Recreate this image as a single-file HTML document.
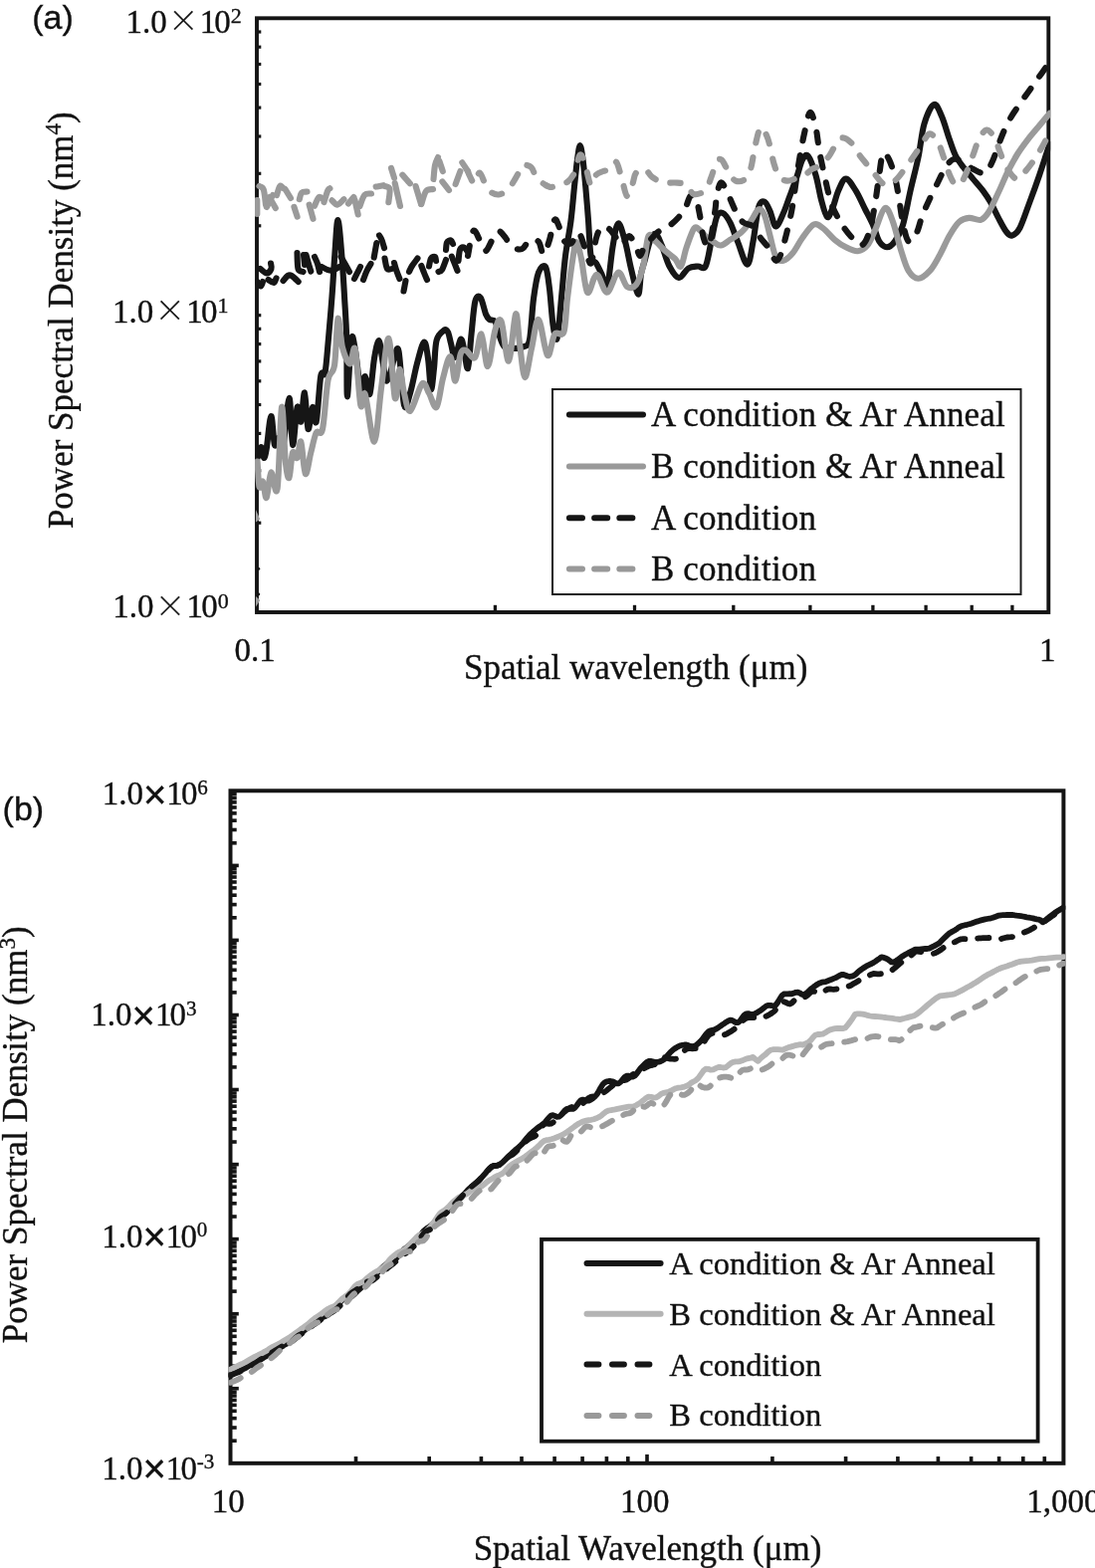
<!DOCTYPE html>
<html><head><meta charset="utf-8"><title>PSD</title>
<style>html,body{margin:0;padding:0;background:#fff;}svg{display:block;} text{stroke:#111;stroke-width:0.35px;}</style>
</head><body>
<svg width="1100" height="1575" viewBox="0 0 1100 1575">
<rect width="1100" height="1575" fill="#fff"/>
<text x="32.2" y="29.2" font-family="'Liberation Sans',Arial,sans-serif" font-size="34" text-anchor="start" fill="#111" class="t" >(a)</text>
<text x="2.6" y="823.8" font-family="'Liberation Sans',Arial,sans-serif" font-size="34" text-anchor="start" fill="#111" class="t" >(b)</text>
<text x="126.4" y="32.5" font-family="'Liberation Serif','Times New Roman',serif" font-size="33" fill="#111">1.0<tspan font-family="'Noto Serif CJK SC','Noto Serif CJK JP',serif" font-size="31" dx="1" dy="-0.3">×</tspan><tspan dx="1" dy="0.3">1</tspan><tspan dx="-1.8">0</tspan><tspan font-size="22" dx="0" dy="-9.8">2</tspan></text>
<text x="113.0" y="323.7" font-family="'Liberation Serif','Times New Roman',serif" font-size="33" fill="#111">1.0<tspan font-family="'Noto Serif CJK SC','Noto Serif CJK JP',serif" font-size="31" dx="1" dy="-0.3">×</tspan><tspan dx="1" dy="0.3">1</tspan><tspan dx="-1.8">0</tspan><tspan font-size="22" dx="0" dy="-9.8">1</tspan></text>
<text x="113.3" y="620.3" font-family="'Liberation Serif','Times New Roman',serif" font-size="33" fill="#111">1.0<tspan font-family="'Noto Serif CJK SC','Noto Serif CJK JP',serif" font-size="31" dx="1" dy="-0.3">×</tspan><tspan dx="1" dy="0.3">1</tspan><tspan dx="-1.8">0</tspan><tspan font-size="22" dx="0" dy="-9.8">0</tspan></text>
<text x="256" y="663.8" font-family="'Liberation Serif','Times New Roman',serif" font-size="33" text-anchor="middle" fill="#111" class="t" >0.1</text>
<text x="1052.3" y="664" font-family="'Liberation Serif','Times New Roman',serif" font-size="33" text-anchor="middle" fill="#111" class="t" >1</text>
<text x="638.7" y="681.6" font-family="'Liberation Serif','Times New Roman',serif" font-size="35" text-anchor="middle" fill="#111" class="t" >Spatial wavelength (μm)</text>
<text transform="translate(73,321.7) rotate(-90)" font-family="'Liberation Serif','Times New Roman',serif" font-size="35" text-anchor="middle" fill="#111">Power Spectral Density (nm<tspan font-size="23" dy="-12">4</tspan><tspan dy="12">)</tspan></text>
<text x="102.7" y="808" font-family="'Liberation Serif','Times New Roman',serif" font-size="33" fill="#111">1.0<tspan font-family="'Liberation Sans',Arial,sans-serif" font-size="40" dy="3.5">×</tspan><tspan dy="-3.5">1</tspan><tspan dx="-1.8">0</tspan><tspan font-size="21" dx="-0.2" dy="-10.3">6</tspan></text>
<text x="91.3" y="1030.2" font-family="'Liberation Serif','Times New Roman',serif" font-size="33" fill="#111">1.0<tspan font-family="'Liberation Sans',Arial,sans-serif" font-size="40" dy="3.5">×</tspan><tspan dy="-3.5">1</tspan><tspan dx="-1.8">0</tspan><tspan font-size="21" dx="-0.2" dy="-10.3">3</tspan></text>
<text x="102.2" y="1252.5" font-family="'Liberation Serif','Times New Roman',serif" font-size="33" fill="#111">1.0<tspan font-family="'Liberation Sans',Arial,sans-serif" font-size="40" dy="3.5">×</tspan><tspan dy="-3.5">1</tspan><tspan dx="-1.8">0</tspan><tspan font-size="21" dx="-0.2" dy="-10.3">0</tspan></text>
<text x="102.2" y="1485.7" font-family="'Liberation Serif','Times New Roman',serif" font-size="33" fill="#111">1.0<tspan font-family="'Liberation Sans',Arial,sans-serif" font-size="40" dy="3.5">×</tspan><tspan dy="-3.5">1</tspan><tspan dx="-1.8">0</tspan><tspan font-size="21" dx="-0.2" dy="-10.3">-3</tspan></text>
<text x="229.2" y="1519" font-family="'Liberation Serif','Times New Roman',serif" font-size="33" text-anchor="middle" fill="#111" class="t" >10</text>
<text x="647.8" y="1519" font-family="'Liberation Serif','Times New Roman',serif" font-size="33" text-anchor="middle" fill="#111" class="t" >100</text>
<text x="1068.4" y="1519" font-family="'Liberation Serif','Times New Roman',serif" font-size="33" text-anchor="middle" fill="#111" class="t" >1,000</text>
<text x="650.5" y="1567.3" font-family="'Liberation Serif','Times New Roman',serif" font-size="35" text-anchor="middle" fill="#111" class="t" >Spatial Wavelength (μm)</text>
<text transform="translate(26.5,1139.8) rotate(-90)" font-family="'Liberation Serif','Times New Roman',serif" font-size="35" text-anchor="middle" fill="#111">Power Spectral Density (nm<tspan font-size="23" dy="-12">3</tspan><tspan dy="12">)</tspan></text>
<line x1="258.0" y1="525.2" x2="262.3" y2="525.2" stroke="#141414" stroke-width="3.2"/>
<line x1="258.0" y1="472.7" x2="262.3" y2="472.7" stroke="#141414" stroke-width="3.2"/>
<line x1="258.0" y1="435.4" x2="262.3" y2="435.4" stroke="#141414" stroke-width="3.2"/>
<line x1="258.0" y1="406.5" x2="262.3" y2="406.5" stroke="#141414" stroke-width="3.2"/>
<line x1="258.0" y1="382.8" x2="262.3" y2="382.8" stroke="#141414" stroke-width="3.2"/>
<line x1="258.0" y1="362.9" x2="262.3" y2="362.9" stroke="#141414" stroke-width="3.2"/>
<line x1="258.0" y1="345.6" x2="262.3" y2="345.6" stroke="#141414" stroke-width="3.2"/>
<line x1="258.0" y1="330.3" x2="262.3" y2="330.3" stroke="#141414" stroke-width="3.2"/>
<line x1="258.0" y1="316.7" x2="262.3" y2="316.7" stroke="#141414" stroke-width="3.2"/>
<line x1="258.0" y1="226.8" x2="262.3" y2="226.8" stroke="#141414" stroke-width="3.2"/>
<line x1="258.0" y1="174.3" x2="262.3" y2="174.3" stroke="#141414" stroke-width="3.2"/>
<line x1="258.0" y1="137.0" x2="262.3" y2="137.0" stroke="#141414" stroke-width="3.2"/>
<line x1="258.0" y1="108.1" x2="262.3" y2="108.1" stroke="#141414" stroke-width="3.2"/>
<line x1="258.0" y1="84.5" x2="262.3" y2="84.5" stroke="#141414" stroke-width="3.2"/>
<line x1="258.0" y1="64.5" x2="262.3" y2="64.5" stroke="#141414" stroke-width="3.2"/>
<line x1="258.0" y1="47.2" x2="262.3" y2="47.2" stroke="#141414" stroke-width="3.2"/>
<line x1="258.0" y1="32.0" x2="262.3" y2="32.0" stroke="#141414" stroke-width="3.2"/>
<line x1="497.4" y1="615.0" x2="497.4" y2="607.8" stroke="#141414" stroke-width="3.3"/>
<line x1="637.5" y1="615.0" x2="637.5" y2="607.8" stroke="#141414" stroke-width="3.3"/>
<line x1="736.8" y1="615.0" x2="736.8" y2="607.8" stroke="#141414" stroke-width="3.3"/>
<line x1="813.9" y1="615.0" x2="813.9" y2="607.8" stroke="#141414" stroke-width="3.3"/>
<line x1="876.9" y1="615.0" x2="876.9" y2="607.8" stroke="#141414" stroke-width="3.3"/>
<line x1="930.1" y1="615.0" x2="930.1" y2="607.8" stroke="#141414" stroke-width="3.3"/>
<line x1="976.2" y1="615.0" x2="976.2" y2="607.8" stroke="#141414" stroke-width="3.3"/>
<line x1="1016.9" y1="615.0" x2="1016.9" y2="607.8" stroke="#141414" stroke-width="3.3"/>
<line x1="231.5" y1="1447.2" x2="237.7" y2="1447.2" stroke="#141414" stroke-width="3.6"/>
<line x1="231.5" y1="1434.0" x2="237.7" y2="1434.0" stroke="#141414" stroke-width="3.6"/>
<line x1="231.5" y1="1424.6" x2="237.7" y2="1424.6" stroke="#141414" stroke-width="3.6"/>
<line x1="231.5" y1="1417.3" x2="237.7" y2="1417.3" stroke="#141414" stroke-width="3.6"/>
<line x1="231.5" y1="1411.4" x2="237.7" y2="1411.4" stroke="#141414" stroke-width="3.6"/>
<line x1="231.5" y1="1406.4" x2="237.7" y2="1406.4" stroke="#141414" stroke-width="3.6"/>
<line x1="231.5" y1="1402.0" x2="237.7" y2="1402.0" stroke="#141414" stroke-width="3.6"/>
<line x1="231.5" y1="1398.2" x2="237.7" y2="1398.2" stroke="#141414" stroke-width="3.6"/>
<line x1="231.5" y1="1394.7" x2="239.8" y2="1394.7" stroke="#141414" stroke-width="3.6"/>
<line x1="231.5" y1="1372.2" x2="237.7" y2="1372.2" stroke="#141414" stroke-width="3.6"/>
<line x1="231.5" y1="1358.9" x2="237.7" y2="1358.9" stroke="#141414" stroke-width="3.6"/>
<line x1="231.5" y1="1349.6" x2="237.7" y2="1349.6" stroke="#141414" stroke-width="3.6"/>
<line x1="231.5" y1="1342.3" x2="237.7" y2="1342.3" stroke="#141414" stroke-width="3.6"/>
<line x1="231.5" y1="1336.3" x2="237.7" y2="1336.3" stroke="#141414" stroke-width="3.6"/>
<line x1="231.5" y1="1331.3" x2="237.7" y2="1331.3" stroke="#141414" stroke-width="3.6"/>
<line x1="231.5" y1="1327.0" x2="237.7" y2="1327.0" stroke="#141414" stroke-width="3.6"/>
<line x1="231.5" y1="1323.1" x2="237.7" y2="1323.1" stroke="#141414" stroke-width="3.6"/>
<line x1="231.5" y1="1319.7" x2="239.8" y2="1319.7" stroke="#141414" stroke-width="3.6"/>
<line x1="231.5" y1="1297.1" x2="237.7" y2="1297.1" stroke="#141414" stroke-width="3.6"/>
<line x1="231.5" y1="1283.9" x2="237.7" y2="1283.9" stroke="#141414" stroke-width="3.6"/>
<line x1="231.5" y1="1274.5" x2="237.7" y2="1274.5" stroke="#141414" stroke-width="3.6"/>
<line x1="231.5" y1="1267.2" x2="237.7" y2="1267.2" stroke="#141414" stroke-width="3.6"/>
<line x1="231.5" y1="1261.3" x2="237.7" y2="1261.3" stroke="#141414" stroke-width="3.6"/>
<line x1="231.5" y1="1256.3" x2="237.7" y2="1256.3" stroke="#141414" stroke-width="3.6"/>
<line x1="231.5" y1="1251.9" x2="237.7" y2="1251.9" stroke="#141414" stroke-width="3.6"/>
<line x1="231.5" y1="1248.1" x2="237.7" y2="1248.1" stroke="#141414" stroke-width="3.6"/>
<line x1="231.5" y1="1244.6" x2="239.8" y2="1244.6" stroke="#141414" stroke-width="3.6"/>
<line x1="231.5" y1="1222.0" x2="237.7" y2="1222.0" stroke="#141414" stroke-width="3.6"/>
<line x1="231.5" y1="1208.8" x2="237.7" y2="1208.8" stroke="#141414" stroke-width="3.6"/>
<line x1="231.5" y1="1199.4" x2="237.7" y2="1199.4" stroke="#141414" stroke-width="3.6"/>
<line x1="231.5" y1="1192.2" x2="237.7" y2="1192.2" stroke="#141414" stroke-width="3.6"/>
<line x1="231.5" y1="1186.2" x2="237.7" y2="1186.2" stroke="#141414" stroke-width="3.6"/>
<line x1="231.5" y1="1181.2" x2="237.7" y2="1181.2" stroke="#141414" stroke-width="3.6"/>
<line x1="231.5" y1="1176.9" x2="237.7" y2="1176.9" stroke="#141414" stroke-width="3.6"/>
<line x1="231.5" y1="1173.0" x2="237.7" y2="1173.0" stroke="#141414" stroke-width="3.6"/>
<line x1="231.5" y1="1169.6" x2="239.8" y2="1169.6" stroke="#141414" stroke-width="3.6"/>
<line x1="231.5" y1="1147.0" x2="237.7" y2="1147.0" stroke="#141414" stroke-width="3.6"/>
<line x1="231.5" y1="1133.8" x2="237.7" y2="1133.8" stroke="#141414" stroke-width="3.6"/>
<line x1="231.5" y1="1124.4" x2="237.7" y2="1124.4" stroke="#141414" stroke-width="3.6"/>
<line x1="231.5" y1="1117.1" x2="237.7" y2="1117.1" stroke="#141414" stroke-width="3.6"/>
<line x1="231.5" y1="1111.2" x2="237.7" y2="1111.2" stroke="#141414" stroke-width="3.6"/>
<line x1="231.5" y1="1106.1" x2="237.7" y2="1106.1" stroke="#141414" stroke-width="3.6"/>
<line x1="231.5" y1="1101.8" x2="237.7" y2="1101.8" stroke="#141414" stroke-width="3.6"/>
<line x1="231.5" y1="1098.0" x2="237.7" y2="1098.0" stroke="#141414" stroke-width="3.6"/>
<line x1="231.5" y1="1094.5" x2="239.8" y2="1094.5" stroke="#141414" stroke-width="3.6"/>
<line x1="231.5" y1="1071.9" x2="237.7" y2="1071.9" stroke="#141414" stroke-width="3.6"/>
<line x1="231.5" y1="1058.7" x2="237.7" y2="1058.7" stroke="#141414" stroke-width="3.6"/>
<line x1="231.5" y1="1049.3" x2="237.7" y2="1049.3" stroke="#141414" stroke-width="3.6"/>
<line x1="231.5" y1="1042.1" x2="237.7" y2="1042.1" stroke="#141414" stroke-width="3.6"/>
<line x1="231.5" y1="1036.1" x2="237.7" y2="1036.1" stroke="#141414" stroke-width="3.6"/>
<line x1="231.5" y1="1031.1" x2="237.7" y2="1031.1" stroke="#141414" stroke-width="3.6"/>
<line x1="231.5" y1="1026.7" x2="237.7" y2="1026.7" stroke="#141414" stroke-width="3.6"/>
<line x1="231.5" y1="1022.9" x2="237.7" y2="1022.9" stroke="#141414" stroke-width="3.6"/>
<line x1="231.5" y1="1019.5" x2="239.8" y2="1019.5" stroke="#141414" stroke-width="3.6"/>
<line x1="231.5" y1="996.9" x2="237.7" y2="996.9" stroke="#141414" stroke-width="3.6"/>
<line x1="231.5" y1="983.7" x2="237.7" y2="983.7" stroke="#141414" stroke-width="3.6"/>
<line x1="231.5" y1="974.3" x2="237.7" y2="974.3" stroke="#141414" stroke-width="3.6"/>
<line x1="231.5" y1="967.0" x2="237.7" y2="967.0" stroke="#141414" stroke-width="3.6"/>
<line x1="231.5" y1="961.1" x2="237.7" y2="961.1" stroke="#141414" stroke-width="3.6"/>
<line x1="231.5" y1="956.0" x2="237.7" y2="956.0" stroke="#141414" stroke-width="3.6"/>
<line x1="231.5" y1="951.7" x2="237.7" y2="951.7" stroke="#141414" stroke-width="3.6"/>
<line x1="231.5" y1="947.8" x2="237.7" y2="947.8" stroke="#141414" stroke-width="3.6"/>
<line x1="231.5" y1="944.4" x2="239.8" y2="944.4" stroke="#141414" stroke-width="3.6"/>
<line x1="231.5" y1="921.8" x2="237.7" y2="921.8" stroke="#141414" stroke-width="3.6"/>
<line x1="231.5" y1="908.6" x2="237.7" y2="908.6" stroke="#141414" stroke-width="3.6"/>
<line x1="231.5" y1="899.2" x2="237.7" y2="899.2" stroke="#141414" stroke-width="3.6"/>
<line x1="231.5" y1="891.9" x2="237.7" y2="891.9" stroke="#141414" stroke-width="3.6"/>
<line x1="231.5" y1="886.0" x2="237.7" y2="886.0" stroke="#141414" stroke-width="3.6"/>
<line x1="231.5" y1="881.0" x2="237.7" y2="881.0" stroke="#141414" stroke-width="3.6"/>
<line x1="231.5" y1="876.6" x2="237.7" y2="876.6" stroke="#141414" stroke-width="3.6"/>
<line x1="231.5" y1="872.8" x2="237.7" y2="872.8" stroke="#141414" stroke-width="3.6"/>
<line x1="231.5" y1="869.4" x2="239.8" y2="869.4" stroke="#141414" stroke-width="3.6"/>
<line x1="231.5" y1="846.8" x2="237.7" y2="846.8" stroke="#141414" stroke-width="3.6"/>
<line x1="231.5" y1="833.5" x2="237.7" y2="833.5" stroke="#141414" stroke-width="3.6"/>
<line x1="231.5" y1="824.2" x2="237.7" y2="824.2" stroke="#141414" stroke-width="3.6"/>
<line x1="231.5" y1="816.9" x2="237.7" y2="816.9" stroke="#141414" stroke-width="3.6"/>
<line x1="231.5" y1="811.0" x2="237.7" y2="811.0" stroke="#141414" stroke-width="3.6"/>
<line x1="231.5" y1="805.9" x2="237.7" y2="805.9" stroke="#141414" stroke-width="3.6"/>
<line x1="231.5" y1="801.6" x2="237.7" y2="801.6" stroke="#141414" stroke-width="3.6"/>
<line x1="231.5" y1="797.7" x2="237.7" y2="797.7" stroke="#141414" stroke-width="3.6"/>
<line x1="357.5" y1="1469.8" x2="357.5" y2="1463.0" stroke="#141414" stroke-width="3.6"/>
<line x1="431.2" y1="1469.8" x2="431.2" y2="1463.0" stroke="#141414" stroke-width="3.6"/>
<line x1="483.4" y1="1469.8" x2="483.4" y2="1463.0" stroke="#141414" stroke-width="3.6"/>
<line x1="524.0" y1="1469.8" x2="524.0" y2="1463.0" stroke="#141414" stroke-width="3.6"/>
<line x1="557.1" y1="1469.8" x2="557.1" y2="1463.0" stroke="#141414" stroke-width="3.6"/>
<line x1="585.1" y1="1469.8" x2="585.1" y2="1463.0" stroke="#141414" stroke-width="3.6"/>
<line x1="609.4" y1="1469.8" x2="609.4" y2="1463.0" stroke="#141414" stroke-width="3.6"/>
<line x1="630.8" y1="1469.8" x2="630.8" y2="1463.0" stroke="#141414" stroke-width="3.6"/>
<line x1="650.0" y1="1469.8" x2="650.0" y2="1460.9" stroke="#141414" stroke-width="3.6"/>
<line x1="775.9" y1="1469.8" x2="775.9" y2="1463.0" stroke="#141414" stroke-width="3.6"/>
<line x1="849.6" y1="1469.8" x2="849.6" y2="1463.0" stroke="#141414" stroke-width="3.6"/>
<line x1="901.9" y1="1469.8" x2="901.9" y2="1463.0" stroke="#141414" stroke-width="3.6"/>
<line x1="942.4" y1="1469.8" x2="942.4" y2="1463.0" stroke="#141414" stroke-width="3.6"/>
<line x1="975.6" y1="1469.8" x2="975.6" y2="1463.0" stroke="#141414" stroke-width="3.6"/>
<line x1="1003.6" y1="1469.8" x2="1003.6" y2="1463.0" stroke="#141414" stroke-width="3.6"/>
<line x1="1027.8" y1="1469.8" x2="1027.8" y2="1463.0" stroke="#141414" stroke-width="3.6"/>
<line x1="1049.3" y1="1469.8" x2="1049.3" y2="1463.0" stroke="#141414" stroke-width="3.6"/>
<rect x="258.0" y="18.3" width="795.3" height="596.7" fill="none" stroke="#141414" stroke-width="3.9"/>
<rect x="231.5" y="794.3" width="836.9" height="675.5" fill="none" stroke="#141414" stroke-width="4"/>
<defs><clipPath id="ca"><rect x="256" y="16.4" width="799.2" height="600.5"/></clipPath><clipPath id="cb"><rect x="229.5" y="792.3" width="840.9" height="679.5"/></clipPath></defs>
<g clip-path="url(#ca)" fill="none" stroke-linecap="round" stroke-linejoin="round">
<path d="M258.6,460.0 C259.2,458.2 261.2,449.0 262.3,449.0 C263.4,449.0 264.1,459.7 265.0,460.0 C265.9,460.3 266.5,458.0 267.7,451.0 C268.9,444.0 270.9,418.7 272.3,418.0 C273.7,417.3 274.6,443.3 275.9,447.0 C277.2,450.7 278.6,439.2 280.0,440.0 C281.4,440.8 282.2,458.7 284.0,452.0 C285.8,445.3 288.8,400.8 290.5,400.0 C292.2,399.2 292.6,445.5 294.0,447.0 C295.4,448.5 297.2,412.9 298.6,409.0 C300.0,405.1 301.1,426.0 302.3,423.6 C303.5,421.2 304.8,393.3 306.0,394.5 C307.2,395.7 308.2,428.6 309.5,431.0 C310.8,433.4 312.6,410.2 314.0,409.0 C315.4,407.8 316.3,428.9 317.7,423.6 C319.1,418.3 320.8,385.6 322.3,377.4 C323.8,369.2 325.2,380.9 326.5,374.6 C327.8,368.3 328.8,352.5 330.0,339.7 C331.2,326.9 332.4,311.8 333.5,297.8 C334.6,283.8 335.3,268.7 336.3,255.9 C337.3,243.1 338.2,221.0 339.4,221.0 C340.6,221.0 342.2,243.1 343.3,255.9 C344.4,268.7 345.2,283.8 346.0,297.8 C346.8,311.8 347.7,322.9 348.2,339.7 C348.7,356.4 348.1,398.1 348.9,398.3 C349.7,398.5 351.7,348.9 353.0,341.0 C354.3,333.1 355.2,342.7 356.8,351.0 C358.4,359.3 360.6,386.5 362.3,391.0 C364.0,395.5 365.3,377.2 366.8,378.0 C368.3,378.8 369.9,399.0 371.4,396.0 C372.9,393.0 374.5,369.0 376.0,360.0 C377.5,351.0 379.2,342.0 380.5,342.0 C381.8,342.0 382.8,353.3 384.0,360.0 C385.2,366.7 386.4,379.5 387.7,382.0 C389.0,384.5 390.6,378.7 392.0,375.0 C393.4,371.3 394.6,363.7 396.0,360.0 C397.4,356.3 398.8,344.9 400.5,352.7 C402.2,360.5 404.1,399.9 406.0,407.0 C407.9,414.1 409.8,402.0 412.0,395.0 C414.2,388.0 416.7,373.6 419.0,365.0 C421.3,356.4 424.2,344.4 426.0,343.6 C427.8,342.8 428.8,352.1 430.0,360.0 C431.2,367.9 432.0,389.3 433.0,391.0 C434.0,392.7 435.1,378.2 436.0,370.0 C436.9,361.8 436.9,348.2 438.6,341.8 C440.3,335.4 444.1,333.2 446.0,331.8 C447.9,330.4 448.8,331.4 450.0,333.6 C451.2,335.8 451.8,340.8 453.0,345.0 C454.2,349.2 455.4,359.7 457.0,359.0 C458.6,358.3 461.2,342.5 462.7,341.0 C464.2,339.5 464.8,345.2 466.0,350.0 C467.2,354.8 468.7,372.5 470.0,370.0 C471.3,367.5 472.4,346.2 473.6,335.0 C474.8,323.8 475.8,308.7 477.3,302.7 C478.8,296.7 480.9,296.9 482.7,299.0 C484.5,301.1 486.5,311.8 488.0,315.5 C489.5,319.2 490.2,319.8 491.8,321.0 C493.4,322.2 495.8,320.4 497.3,322.7 C498.8,325.0 499.5,330.8 501.0,335.0 C502.5,339.2 503.9,345.5 506.4,348.0 C508.9,350.5 512.7,350.0 516.0,350.0 C519.3,350.0 523.7,349.5 526.4,348.0 C529.1,346.5 530.4,349.0 532.0,341.0 C533.6,333.0 534.5,311.2 536.0,300.0 C537.5,288.8 539.0,278.9 541.0,273.6 C543.0,268.3 546.2,265.3 548.0,268.0 C549.8,270.7 550.8,280.3 552.0,290.0 C553.2,299.7 554.3,317.5 555.5,326.0 C556.7,334.5 558.0,341.0 559.0,341.0 C560.0,341.0 560.6,333.9 561.5,326.0 C562.4,318.1 563.4,305.1 564.5,293.6 C565.6,282.1 566.5,269.1 568.0,257.0 C569.5,244.9 572.1,233.1 573.6,221.0 C575.1,208.9 576.2,194.7 577.3,184.5 C578.4,174.3 579.1,166.4 580.0,160.0 C580.9,153.6 581.8,146.0 582.7,146.0 C583.6,146.0 584.6,153.6 585.5,160.0 C586.4,166.4 587.1,174.3 588.0,184.5 C588.9,194.7 590.1,208.9 591.0,221.0 C591.9,233.1 592.3,249.8 593.6,257.0 C594.9,264.2 597.2,261.4 599.0,264.5 C600.8,267.6 602.7,271.6 604.5,275.5 C606.3,279.4 608.2,292.6 610.0,288.0 C611.8,283.4 613.7,258.6 615.5,248.0 C617.3,237.4 618.9,225.4 621.0,224.5 C623.1,223.6 625.8,235.1 628.0,242.7 C630.2,250.3 631.8,261.2 634.0,270.0 C636.2,278.8 639.3,294.7 641.0,295.5 C642.7,296.3 642.9,280.6 644.0,275.0 C645.1,269.4 646.0,267.7 647.6,262.0 C649.2,256.3 651.5,245.3 653.4,240.8 C655.3,236.3 657.1,234.1 659.0,235.0 C660.9,235.9 662.5,241.1 664.8,246.5 C667.0,251.9 669.6,262.1 672.5,267.5 C675.4,272.9 678.8,278.7 682.0,279.0 C685.2,279.3 688.3,271.4 691.5,269.5 C694.7,267.6 698.1,267.8 701.0,267.5 C703.9,267.2 706.5,271.6 708.7,267.5 C711.0,263.4 712.6,250.9 714.5,242.7 C716.4,234.4 718.1,222.8 720.0,218.0 C721.9,213.2 723.8,213.1 726.0,214.0 C728.2,214.9 731.0,218.8 733.5,223.6 C736.0,228.4 738.1,235.7 741.0,242.7 C743.9,249.7 748.1,265.6 750.7,265.6 C753.3,265.6 754.6,252.2 756.5,242.7 C758.4,233.2 760.1,215.1 762.0,208.4 C763.9,201.7 766.1,202.0 768.0,202.6 C769.9,203.2 771.7,208.0 773.6,212.2 C775.5,216.3 777.2,227.2 779.4,227.5 C781.6,227.8 784.8,218.8 787.0,214.0 C789.2,209.2 790.5,204.8 792.7,198.8 C794.9,192.8 798.2,184.2 800.4,177.8 C802.6,171.4 804.1,164.1 806.0,160.6 C807.9,157.1 809.5,154.2 811.8,156.8 C814.0,159.4 817.3,168.7 819.5,176.0 C821.7,183.3 823.1,193.7 825.0,200.7 C826.9,207.7 829.1,216.7 831.0,218.0 C832.9,219.3 834.7,212.9 836.6,208.4 C838.5,203.9 840.2,195.8 842.4,191.0 C844.6,186.2 846.9,179.5 849.8,179.6 C852.7,179.7 856.3,186.2 859.6,191.4 C862.9,196.6 866.5,205.1 869.5,211.0 C872.5,216.9 875.0,221.5 877.3,226.7 C879.6,231.9 880.9,238.8 883.2,242.4 C885.5,246.0 888.4,248.3 891.0,248.3 C893.6,248.3 896.4,246.0 899.0,242.4 C901.6,238.8 904.2,235.2 906.8,226.7 C909.4,218.2 912.0,202.8 914.6,191.4 C917.2,180.0 920.2,169.1 922.5,158.0 C924.8,146.9 925.8,133.4 928.4,124.6 C931.0,115.8 935.3,106.3 938.2,105.0 C941.1,103.7 943.4,110.9 946.0,116.8 C948.6,122.7 951.6,133.8 953.9,140.3 C956.2,146.8 957.5,151.4 959.8,156.0 C962.1,160.6 964.7,163.9 967.6,167.8 C970.5,171.7 974.1,175.7 977.4,179.6 C980.7,183.5 984.4,187.5 987.3,191.4 C990.2,195.3 992.4,198.4 995.0,203.0 C997.6,207.6 1000.4,214.0 1003.0,218.9 C1005.6,223.8 1008.5,229.7 1010.8,232.6 C1013.1,235.5 1014.4,237.2 1016.7,236.5 C1019.0,235.8 1021.6,234.3 1024.6,228.7 C1027.5,223.1 1031.1,211.8 1034.4,203.0 C1037.7,194.2 1041.3,184.2 1044.2,175.7 C1047.1,167.2 1050.3,157.1 1052.0,152.0 C1053.7,146.9 1054.1,146.2 1054.5,145.0" stroke="#161616" stroke-width="6.1"/>
<path d="M258.6,463.6 C258.9,467.8 259.6,485.7 260.5,489.0 C261.4,492.3 262.8,481.8 264.0,483.6 C265.2,485.4 266.3,501.5 267.7,500.0 C269.1,498.5 270.5,476.0 272.3,474.5 C274.1,473.0 276.8,501.9 278.6,491.0 C280.4,480.1 281.6,413.6 283.0,409.0 C284.4,404.4 285.6,451.8 286.8,463.6 C288.1,475.4 289.3,481.5 290.5,480.0 C291.7,478.5 292.6,457.8 294.0,454.5 C295.4,451.2 297.2,461.8 298.6,460.0 C300.0,458.2 300.9,440.9 302.3,443.6 C303.7,446.3 305.1,474.2 306.8,476.0 C308.5,477.8 310.5,461.4 312.3,454.5 C314.1,447.6 315.8,438.4 317.7,434.5 C319.6,430.6 322.0,439.8 324.0,431.0 C326.0,422.2 327.5,392.7 329.5,382.0 C331.5,371.3 334.3,377.3 336.0,367.0 C337.7,356.7 338.2,323.0 339.5,320.0 C340.8,317.0 342.0,341.4 344.0,349.0 C346.0,356.6 349.3,365.2 351.4,365.5 C353.5,365.8 355.0,344.1 356.8,351.0 C358.6,357.9 360.6,399.5 362.3,407.0 C364.0,414.5 364.5,389.9 366.8,396.0 C369.1,402.1 373.3,444.6 376.0,443.6 C378.7,442.6 380.6,407.3 383.0,390.0 C385.4,372.7 388.2,338.3 390.5,340.0 C392.8,341.7 395.0,394.8 396.8,400.0 C398.6,405.2 399.9,371.8 401.4,371.0 C402.9,370.2 404.2,388.1 406.0,395.0 C407.8,401.9 409.3,414.3 412.3,412.7 C415.3,411.1 420.9,388.4 424.0,385.5 C427.1,382.6 428.6,391.1 431.0,395.0 C433.4,398.9 436.3,411.5 438.6,409.0 C440.9,406.5 442.7,388.5 445.0,380.0 C447.3,371.5 450.2,357.6 452.3,358.0 C454.4,358.4 455.6,383.1 457.3,382.7 C459.0,382.3 460.9,360.6 462.7,355.5 C464.5,350.4 465.6,351.4 468.0,352.0 C470.4,352.6 474.7,361.8 477.3,359.0 C479.9,356.2 481.5,334.0 483.6,335.5 C485.7,337.0 487.7,368.6 490.0,368.0 C492.3,367.4 495.0,339.6 497.3,332.0 C499.6,324.4 501.3,317.6 503.6,322.7 C505.9,327.8 508.6,363.9 511.0,362.7 C513.4,361.5 516.2,318.4 518.0,315.5 C519.8,312.6 520.5,334.4 522.0,345.0 C523.5,355.6 525.3,378.2 527.3,379.0 C529.3,379.8 531.7,359.7 534.0,350.0 C536.3,340.3 538.3,319.8 541.0,321.0 C543.7,322.2 547.3,354.6 550.0,357.0 C552.7,359.4 554.6,339.4 557.3,335.5 C560.0,331.6 564.3,339.5 566.4,333.6 C568.5,327.7 568.5,312.4 570.0,300.0 C571.5,287.6 574.0,268.5 575.5,259.0 C577.0,249.5 577.6,242.8 579.0,243.0 C580.4,243.2 582.2,251.6 584.0,260.0 C585.8,268.4 587.8,290.4 590.0,293.6 C592.2,296.8 595.2,281.8 597.0,279.0 C598.8,276.2 598.8,274.6 601.0,277.0 C603.2,279.4 606.7,294.2 610.0,293.6 C613.3,293.0 617.7,274.5 621.0,273.6 C624.3,272.7 627.0,285.9 630.0,288.0 C633.0,290.1 636.3,289.3 639.0,286.0 C641.7,282.7 643.9,276.2 646.0,268.0 C648.1,259.8 649.3,241.2 651.5,237.0 C653.7,232.8 656.1,240.1 659.0,242.7 C661.9,245.2 665.4,249.4 668.6,252.3 C671.8,255.2 675.6,257.5 678.2,260.0 C680.8,262.5 682.1,269.4 684.0,267.5 C685.9,265.6 687.4,254.8 689.6,248.5 C691.8,242.2 695.1,232.3 697.3,229.4 C699.5,226.5 701.1,230.0 703.0,231.3 C704.9,232.6 706.5,235.1 708.7,237.0 C710.9,238.9 713.9,241.1 716.4,242.7 C718.9,244.3 721.1,246.8 724.0,246.5 C726.9,246.2 730.0,243.1 733.5,240.8 C737.0,238.6 741.5,236.2 745.0,233.0 C748.5,229.8 751.7,225.5 754.5,221.7 C757.3,217.9 759.8,211.2 762.0,210.3 C764.2,209.4 766.1,211.6 768.0,216.0 C769.9,220.4 771.7,230.0 773.6,237.0 C775.5,244.0 777.2,253.9 779.4,258.0 C781.6,262.1 784.1,262.5 787.0,261.8 C789.9,261.1 793.3,257.8 796.5,254.0 C799.7,250.2 802.5,243.8 806.0,239.0 C809.5,234.2 814.0,227.1 817.5,225.5 C821.0,223.9 823.5,226.8 827.0,229.4 C830.5,232.0 834.7,237.7 838.5,240.8 C842.3,244.0 845.9,246.4 849.8,248.3 C853.6,250.2 858.0,252.5 861.6,252.2 C865.2,251.9 868.5,250.0 871.4,246.4 C874.3,242.8 876.4,236.8 879.3,230.6 C882.2,224.4 886.0,210.3 889.0,209.0 C892.0,207.7 894.4,215.9 897.0,222.8 C899.6,229.7 902.2,242.1 904.8,250.3 C907.4,258.5 909.6,267.0 912.6,271.9 C915.6,276.8 918.9,279.7 922.5,279.7 C926.1,279.7 930.6,275.8 934.2,271.9 C937.8,268.0 940.7,262.1 944.0,256.2 C947.3,250.3 950.6,242.1 953.9,236.5 C957.2,230.9 960.4,225.7 963.7,222.8 C967.0,219.9 969.9,219.2 973.5,218.9 C977.1,218.6 982.0,221.8 985.3,220.8 C988.6,219.8 990.2,217.6 993.2,213.0 C996.2,208.4 999.7,200.2 1003.0,193.3 C1006.3,186.4 1009.5,178.2 1012.8,171.7 C1016.1,165.1 1019.3,159.2 1022.6,154.0 C1025.9,148.8 1029.1,144.6 1032.4,140.3 C1035.7,136.1 1038.9,132.4 1042.2,128.5 C1045.5,124.6 1050.0,119.2 1052.0,116.8 C1054.0,114.3 1054.1,114.3 1054.5,113.8" stroke="#9a9a9a" stroke-width="6.1"/>
<path d="M470.0,257.0 C470.9,252.8 473.4,234.4 475.5,232.0 C477.6,229.6 480.6,239.4 482.7,242.7 C484.8,246.0 485.9,252.6 488.0,252.0 C490.1,251.4 493.3,242.3 495.5,239.0 C497.7,235.7 498.9,232.0 501.0,232.0 C503.1,232.0 505.9,236.3 508.0,239.0 C510.1,241.7 510.9,246.2 513.6,248.0 C516.4,249.8 521.4,251.2 524.5,250.0 C527.6,248.8 529.2,242.2 532.0,241.0 C534.8,239.8 538.7,240.3 541.0,242.7 C543.3,245.1 544.2,255.8 546.0,255.5 C547.8,255.2 550.2,246.8 552.0,241.0 C553.8,235.2 555.5,223.5 557.0,221.0 C558.5,218.5 559.5,222.7 561.0,226.0 C562.5,229.3 563.9,237.9 566.0,241.0 C568.1,244.1 571.1,245.7 573.6,244.5 C576.1,243.3 578.6,232.7 581.0,233.6 C583.4,234.5 585.9,244.8 588.0,250.0 C590.1,255.2 591.8,266.3 593.6,264.5 C595.4,262.7 597.2,245.1 599.0,239.0 C600.8,232.9 602.3,229.5 604.5,228.0 C606.7,226.5 609.6,228.2 612.0,230.0 C614.4,231.8 616.9,236.3 619.0,239.0 C621.1,241.7 622.3,246.3 624.5,246.0 C626.7,245.7 629.6,236.7 632.0,237.0 C634.4,237.3 637.2,244.7 639.0,248.0 C640.8,251.3 641.6,257.2 643.0,257.0 C644.4,256.8 645.9,249.2 647.6,246.5 C649.3,243.8 651.2,243.1 653.4,240.8 C655.6,238.6 658.0,235.2 661.0,233.0 C664.0,230.8 668.0,230.0 671.5,227.5 C675.0,225.0 679.1,221.2 682.0,218.0 C684.9,214.8 686.8,211.9 688.7,208.4 C690.6,204.9 691.8,198.6 693.5,197.0 C695.2,195.4 697.4,195.6 699.0,198.8 C700.6,202.0 701.7,209.3 703.0,216.0 C704.3,222.7 705.2,233.9 706.8,239.0 C708.4,244.1 710.6,251.0 712.5,246.5 C714.4,242.0 717.0,220.4 718.3,212.2 C719.5,203.9 719.0,201.8 720.0,197.0 C721.0,192.2 722.4,184.5 724.0,183.5 C725.6,182.5 727.8,187.5 729.7,191.0 C731.6,194.5 733.6,200.3 735.5,204.5 C737.4,208.7 739.1,212.8 741.0,216.0 C742.9,219.2 744.4,221.7 747.0,223.6 C749.6,225.5 753.7,224.9 756.5,227.5 C759.3,230.1 761.5,235.5 764.0,239.0 C766.5,242.5 769.1,244.7 771.7,248.5 C774.3,252.3 777.2,260.9 779.4,261.8 C781.6,262.7 783.4,257.8 785.0,254.0 C786.6,250.2 787.7,244.1 789.0,239.0 C790.3,233.9 791.5,229.3 792.7,223.6 C794.0,217.8 795.0,214.0 796.5,204.5 C798.0,195.0 800.1,178.2 802.0,166.4 C803.9,154.7 806.0,142.9 808.0,134.0 C810.0,125.1 811.8,114.0 813.7,113.0 C815.6,112.0 817.9,121.3 819.5,128.0 C821.1,134.7 821.7,144.4 823.3,153.0 C824.9,161.6 827.4,172.4 829.0,179.7 C830.6,187.0 831.7,192.2 833.0,197.0 C834.3,201.8 835.0,204.6 836.6,208.4 C838.2,212.2 840.5,216.4 842.4,219.8 C844.3,223.2 845.6,225.6 847.8,228.7 C850.0,231.8 852.8,235.6 855.7,238.5 C858.7,241.4 862.5,247.4 865.5,246.4 C868.5,245.4 871.1,239.8 873.4,232.6 C875.7,225.4 877.7,212.5 879.3,203.0 C880.9,193.5 881.9,183.9 883.2,175.7 C884.5,167.5 885.4,156.6 887.0,154.0 C888.6,151.4 891.0,156.1 893.0,160.0 C895.0,163.9 897.4,171.4 899.0,177.6 C900.6,183.8 901.5,189.8 902.8,197.3 C904.1,204.8 905.2,215.3 906.8,222.8 C908.4,230.3 910.3,240.4 912.6,242.4 C914.9,244.4 918.2,238.8 920.5,234.6 C922.8,230.4 924.1,222.9 926.4,217.0 C928.7,211.1 931.6,204.8 934.2,199.2 C936.8,193.6 939.4,188.7 942.0,183.5 C944.6,178.3 947.4,171.7 950.0,167.8 C952.6,163.9 955.2,161.0 957.8,160.0 C960.4,159.0 962.4,160.4 965.7,162.0 C969.0,163.6 973.5,167.9 977.4,169.8 C981.3,171.8 985.9,175.0 989.2,173.7 C992.5,172.4 994.4,167.6 997.0,162.0 C999.6,156.4 1002.4,146.9 1005.0,140.3 C1007.6,133.7 1009.9,128.2 1012.8,122.6 C1015.7,117.0 1019.3,111.9 1022.6,107.0 C1025.9,102.1 1029.1,97.8 1032.4,93.2 C1035.7,88.6 1038.9,84.1 1042.2,79.5 C1045.5,74.9 1050.4,68.0 1052.0,65.7" stroke="#161616" stroke-width="6.1" stroke-dasharray="10.4 15.1"/>
<path d="M258.5,283.0 C259.1,283.8 261.1,287.5 262.0,287.5 C262.9,287.5 263.7,283.8 264.0,283.0" stroke="#161616" stroke-width="6.1"/>
<path d="M261.5,270.0 C262.6,270.8 266.2,274.5 268.0,274.5 C269.8,274.5 271.8,271.7 272.5,270.0 C273.2,268.3 272.1,265.4 272.0,264.5" stroke="#161616" stroke-width="6.1"/>
<path d="M269.5,281.0 C270.4,281.5 273.7,284.2 275.0,284.0 C276.3,283.8 277.1,280.2 277.5,279.5" stroke="#161616" stroke-width="6.1"/>
<path d="M284.5,282.0 C285.2,281.2 287.6,277.8 289.0,277.0 C290.4,276.2 291.2,276.0 293.0,277.0 C294.8,278.0 298.6,282.0 299.7,283.0" stroke="#161616" stroke-width="6.1"/>
<path d="M298.5,254.0 C298.7,256.7 298.5,266.8 299.5,270.0 C300.5,273.2 303.7,272.5 304.5,273.0" stroke="#161616" stroke-width="6.1"/>
<path d="M305.0,256.0 C305.2,257.7 305.8,264.3 306.0,266.0" stroke="#161616" stroke-width="6.1"/>
<path d="M307.5,256.0 C307.9,257.5 309.2,262.2 310.0,265.0 C310.8,267.8 311.9,271.2 312.3,272.5" stroke="#161616" stroke-width="6.1"/>
<path d="M316.0,258.0 C316.5,259.2 318.2,262.5 319.0,265.0 C319.8,267.5 320.7,271.7 321.0,273.0" stroke="#161616" stroke-width="6.1"/>
<path d="M323.0,268.0 C324.0,268.5 327.2,270.3 329.0,271.0 C330.8,271.7 332.8,271.8 333.5,272.0" stroke="#161616" stroke-width="6.1"/>
<path d="M335.5,271.0 C336.4,270.5 340.1,268.5 341.0,268.0" stroke="#161616" stroke-width="6.1"/>
<path d="M342.5,258.0 C343.1,259.0 344.6,261.5 346.0,264.0 C347.4,266.5 350.2,271.5 351.0,273.0" stroke="#161616" stroke-width="6.1"/>
<path d="M356.0,280.0 C356.5,279.0 358.0,276.0 359.0,274.0 C360.0,272.0 361.5,269.0 362.0,268.0" stroke="#161616" stroke-width="6.1"/>
<path d="M365.0,281.0 C365.6,279.5 367.2,274.7 368.5,272.0 C369.8,269.3 371.8,266.2 372.5,265.0" stroke="#161616" stroke-width="6.1"/>
<path d="M375.7,258.6 C376.1,256.2 377.9,246.4 378.3,244.0" stroke="#161616" stroke-width="6.1"/>
<path d="M381.0,236.5 C381.4,237.2 382.7,238.9 383.5,241.0 C384.3,243.1 385.6,247.7 386.0,249.0" stroke="#161616" stroke-width="6.1"/>
<path d="M386.5,259.5 C386.9,261.2 387.8,268.2 389.0,270.0 C390.2,271.8 392.8,270.0 393.5,270.0" stroke="#161616" stroke-width="6.1"/>
<path d="M396.0,264.0 C396.3,265.2 397.1,268.3 398.0,271.0 C398.9,273.7 400.8,278.5 401.4,280.0" stroke="#161616" stroke-width="6.1"/>
<path d="M407.5,282.0 C407.2,283.8 405.8,290.8 405.5,292.5" stroke="#161616" stroke-width="6.1"/>
<path d="M411.0,272.9 C411.5,271.9 412.6,269.2 414.0,267.0 C415.4,264.8 418.6,260.8 419.5,259.5" stroke="#161616" stroke-width="6.1"/>
<path d="M423.3,267.0 C423.8,268.2 425.1,271.7 426.0,274.0 C426.9,276.3 428.5,279.8 429.0,281.0" stroke="#161616" stroke-width="6.1"/>
<path d="M431.0,267.5 C431.3,266.2 432.0,261.1 433.0,259.5 C434.0,257.9 436.2,257.6 437.0,258.0 C437.8,258.4 437.8,261.3 438.0,262.0" stroke="#161616" stroke-width="6.1"/>
<path d="M440.5,273.0 C441.1,272.7 442.8,273.0 444.0,271.0 C445.2,269.0 447.3,262.7 448.0,261.0" stroke="#161616" stroke-width="6.1"/>
<path d="M448.0,251.0 C448.2,249.8 448.2,245.1 449.0,243.5 C449.8,241.9 452.0,241.2 453.0,241.5 C454.0,241.8 454.7,244.4 455.0,245.0" stroke="#161616" stroke-width="6.1"/>
<path d="M453.8,257.6 C454.8,260.0 458.6,269.5 459.5,271.9" stroke="#161616" stroke-width="6.1"/>
<path d="M460.5,262.0 C460.8,260.2 461.1,253.2 462.0,251.0 C462.9,248.8 464.7,248.2 466.0,248.5 C467.3,248.8 469.3,252.2 470.0,253.0" stroke="#161616" stroke-width="6.1"/>
<path d="M470.0,172.0 C470.3,172.8 470.8,174.9 472.0,177.0 C473.2,179.1 475.3,185.1 477.0,184.5 C478.7,183.9 479.8,172.7 482.0,173.6 C484.2,174.5 486.8,186.3 490.0,190.0 C493.2,193.7 497.3,195.8 501.0,195.5 C504.7,195.2 508.7,191.7 512.0,188.0 C515.3,184.3 518.9,177.3 521.0,173.6 C523.1,169.9 522.4,166.9 524.5,166.0 C526.6,165.1 531.2,165.8 533.6,168.0 C536.0,170.2 536.9,176.2 539.0,179.0 C541.1,181.8 543.6,183.0 546.0,184.5 C548.4,186.0 550.8,188.0 553.6,188.0 C556.4,188.0 560.0,185.4 562.7,184.5 C565.4,183.6 567.6,184.5 570.0,182.7 C572.4,180.9 574.9,178.1 577.0,173.6 C579.1,169.1 580.9,156.8 582.7,155.5 C584.5,154.2 586.2,160.9 588.0,166.0 C589.8,171.1 591.8,184.4 593.6,186.0 C595.4,187.6 596.9,177.8 599.0,175.5 C601.1,173.2 603.6,172.9 606.0,172.0 C608.4,171.1 611.4,171.6 613.6,170.0 C615.8,168.4 617.2,161.2 619.0,162.7 C620.8,164.2 622.7,173.3 624.5,179.0 C626.3,184.7 628.2,196.1 630.0,197.0 C631.8,197.9 634.0,188.4 635.5,184.5 C637.0,180.6 636.9,176.0 639.0,173.6 C641.1,171.2 645.3,169.3 648.0,170.0 C650.7,170.7 651.9,175.6 655.0,177.8 C658.1,180.1 662.9,182.6 666.7,183.5 C670.5,184.4 674.2,183.2 678.0,183.5 C681.8,183.8 686.4,183.6 689.6,185.5 C692.8,187.4 693.8,194.1 697.0,195.0 C700.2,195.9 705.8,193.9 708.7,191.0 C711.6,188.1 712.6,182.6 714.5,177.8 C716.4,173.1 718.2,165.4 720.0,162.5 C721.8,159.6 723.1,159.0 725.0,160.6 C726.9,162.2 729.3,168.5 731.6,172.0 C733.9,175.5 736.1,180.3 739.0,181.6 C741.9,182.9 746.4,182.0 749.0,179.7 C751.6,177.4 752.9,173.4 754.5,168.0 C756.1,162.6 756.8,154.0 758.4,147.3 C760.0,140.6 762.1,129.9 764.0,128.0 C765.9,126.1 768.4,132.6 770.0,135.8 C771.6,139.0 772.4,142.5 773.6,147.3 C774.9,152.1 775.9,159.4 777.5,164.5 C779.1,169.6 780.8,175.0 783.0,177.8 C785.2,180.7 788.2,181.3 790.8,181.6 C793.4,181.9 795.6,180.6 798.5,179.7 C801.4,178.8 805.1,177.6 808.0,176.0 C810.9,174.4 813.1,171.6 815.6,170.0 C818.1,168.4 820.1,168.6 823.0,166.4 C825.9,164.2 830.2,160.0 832.8,156.8 C835.4,153.6 836.3,150.4 838.5,147.3 C840.7,144.2 843.1,139.0 846.0,138.4 C848.9,137.8 852.8,141.1 855.7,144.0 C858.6,146.9 861.0,152.4 863.6,156.0 C866.2,159.6 868.8,162.5 871.4,165.8 C874.0,169.1 876.4,172.4 879.3,175.7 C882.2,179.0 885.7,184.5 889.0,185.5 C892.3,186.5 895.7,184.1 899.0,181.5 C902.3,178.9 905.5,174.1 908.7,169.8 C912.0,165.6 915.5,160.3 918.5,156.0 C921.5,151.7 923.8,147.6 926.4,144.0 C929.0,140.4 931.4,134.7 934.0,134.4 C936.6,134.1 939.7,138.4 942.0,142.3 C944.3,146.2 946.0,152.4 948.0,158.0 C950.0,163.6 952.0,171.1 954.0,175.7 C956.0,180.3 957.8,184.2 959.8,185.5 C961.8,186.8 963.8,185.8 965.7,183.5 C967.7,181.2 969.5,176.3 971.5,171.7 C973.5,167.1 975.4,161.2 977.4,156.0 C979.4,150.8 981.0,144.6 983.3,140.3 C985.6,136.1 988.4,130.8 991.0,130.5 C993.6,130.2 996.7,134.5 999.0,138.4 C1001.3,142.3 1003.0,149.1 1005.0,154.0 C1007.0,158.9 1008.2,163.5 1010.8,167.8 C1013.4,172.1 1017.6,178.6 1020.6,179.6 C1023.6,180.6 1025.9,176.3 1028.5,173.7 C1031.1,171.1 1033.8,167.6 1036.4,164.0 C1039.0,160.4 1041.6,156.3 1044.2,152.0 C1046.8,147.7 1050.3,141.3 1052.0,138.4 C1053.7,135.5 1054.1,135.2 1054.5,134.5" stroke="#9a9a9a" stroke-width="6.1" stroke-dasharray="10.4 15.1"/>
<path d="M258.3,215.0 C258.3,212.7 258.3,203.3 258.3,201.0" stroke="#9a9a9a" stroke-width="6.1"/>
<path d="M260.5,187.0 C261.2,187.6 263.7,187.2 264.8,190.4 C265.9,193.6 266.6,203.4 267.0,206.0" stroke="#9a9a9a" stroke-width="6.1"/>
<path d="M268.0,208.0 C269.0,206.0 273.0,198.0 274.0,196.0" stroke="#9a9a9a" stroke-width="6.1"/>
<path d="M270.5,198.0 C271.6,199.8 275.8,207.2 276.8,209.0" stroke="#9a9a9a" stroke-width="6.1"/>
<path d="M278.0,196.0 C278.5,194.5 280.1,188.2 281.2,187.0 C282.3,185.8 283.9,188.7 284.5,189.0" stroke="#9a9a9a" stroke-width="6.1"/>
<path d="M286.5,190.0 C287.4,191.5 291.1,197.5 292.0,199.0" stroke="#9a9a9a" stroke-width="6.1"/>
<path d="M295.4,207.8 C295.9,209.4 298.1,216.0 298.6,217.6" stroke="#9a9a9a" stroke-width="6.1"/>
<path d="M300.8,200.2 C301.2,199.1 301.7,194.9 303.0,193.6 C304.3,192.3 307.6,192.7 308.5,192.5" stroke="#9a9a9a" stroke-width="6.1"/>
<path d="M310.6,205.6 C311.2,208.0 313.9,217.4 314.5,219.8" stroke="#9a9a9a" stroke-width="6.1"/>
<path d="M316.0,206.7 C316.8,205.2 319.0,199.1 320.5,198.0 C322.0,196.9 324.1,199.8 324.8,200.2" stroke="#9a9a9a" stroke-width="6.1"/>
<path d="M325.5,203.0 C326.1,201.1 328.2,193.8 329.2,191.5 C330.2,189.2 331.0,189.7 331.4,189.3" stroke="#9a9a9a" stroke-width="6.1"/>
<path d="M333.5,201.3 C334.4,202.0 337.0,205.8 339.0,205.6 C341.0,205.4 344.4,201.1 345.5,200.2" stroke="#9a9a9a" stroke-width="6.1"/>
<path d="M349.9,204.5 C350.8,203.4 354.5,199.1 355.4,198.0" stroke="#9a9a9a" stroke-width="6.1"/>
<path d="M356.5,201.0 C357.0,203.4 359.2,213.1 359.7,215.5" stroke="#9a9a9a" stroke-width="6.1"/>
<path d="M361.5,207.0 C362.3,205.1 364.4,197.9 366.3,195.8 C368.2,193.7 371.9,194.7 373.0,194.5" stroke="#9a9a9a" stroke-width="6.1"/>
<path d="M377.6,187.6 C378.8,187.4 383.8,186.4 385.0,186.2" stroke="#9a9a9a" stroke-width="6.1"/>
<path d="M386.5,187.0 C387.3,187.5 390.9,187.3 391.5,190.0 C392.1,192.7 390.5,201.1 390.3,203.3" stroke="#9a9a9a" stroke-width="6.1"/>
<path d="M393.0,169.0 C393.5,170.6 395.5,177.0 396.0,178.6" stroke="#9a9a9a" stroke-width="6.1"/>
<path d="M396.7,184.0 C397.6,187.8 401.1,203.2 402.0,207.0" stroke="#9a9a9a" stroke-width="6.1"/>
<path d="M404.3,175.7 C405.6,177.1 410.6,182.9 411.9,184.3" stroke="#9a9a9a" stroke-width="6.1"/>
<path d="M417.6,187.0 C418.5,190.0 422.1,202.0 423.0,205.0" stroke="#9a9a9a" stroke-width="6.1"/>
<path d="M423.3,205.0 C424.1,202.8 426.1,194.5 428.0,192.0 C429.9,189.5 433.8,190.3 435.0,190.0" stroke="#9a9a9a" stroke-width="6.1"/>
<path d="M435.5,180.0 C435.8,177.7 436.2,169.7 437.0,166.0 C437.8,162.3 439.5,159.3 440.0,158.0" stroke="#9a9a9a" stroke-width="6.1"/>
<path d="M441.5,162.0 C442.1,163.7 444.2,170.3 444.8,172.0" stroke="#9a9a9a" stroke-width="6.1"/>
<path d="M444.3,182.4 C445.4,183.8 449.9,189.6 451.0,191.0" stroke="#9a9a9a" stroke-width="6.1"/>
<path d="M457.6,185.0 C458.4,182.8 461.6,174.2 462.4,172.0" stroke="#9a9a9a" stroke-width="6.1"/>
<path d="M464.3,163.3 C465.2,164.8 469.1,170.6 470.0,172.0" stroke="#9a9a9a" stroke-width="6.1"/>
</g>
<polygon points="257,512 261.2,521.5 257,524.5" fill="#9a9a9a"/><polygon points="257,599 261.2,603 257,609.5" fill="#9a9a9a"/>
<circle cx="259.6" cy="571.3" r="1.6" fill="#161616"/><circle cx="259.6" cy="596.8" r="1.6" fill="#161616"/>
<g clip-path="url(#cb)" fill="none" stroke-linecap="round" stroke-linejoin="round">
<path d="M231.5,1380.9 L233.5,1379.9 L235.5,1378.9 L237.5,1378.0 L239.5,1377.0 L241.5,1376.2 L243.5,1375.5 L245.5,1374.6 L247.5,1373.6 L249.5,1372.3 L251.5,1370.9 L253.5,1369.7 L255.5,1368.6 L257.5,1367.5 L259.5,1366.6 L261.5,1365.5 L263.5,1364.4 L265.5,1363.2 L267.5,1362.1 L269.5,1360.8 L271.5,1359.3 L273.5,1357.8 L275.5,1356.3 L277.5,1355.0 L279.5,1354.0 L281.5,1353.1 L283.5,1352.1 L285.5,1351.0 L287.5,1349.9 L289.5,1348.7 L291.5,1347.5 L293.5,1346.5 L295.5,1345.3 L297.5,1343.9 L299.5,1342.4 L301.5,1340.5 L303.5,1338.4 L305.5,1336.4 L307.5,1334.8 L309.5,1333.5 L311.5,1332.3 L313.5,1331.0 L315.5,1329.5 L317.5,1327.8 L319.5,1326.0 L321.5,1324.4 L323.5,1323.3 L325.5,1322.5 L327.5,1321.7 L329.5,1320.6 L331.5,1319.1 L333.5,1317.4 L335.5,1315.5 L337.5,1313.5 L339.5,1311.0 L341.5,1308.4 L343.5,1306.1 L345.5,1304.8 L347.5,1304.3 L349.5,1304.0 L351.5,1303.3 L353.5,1302.0 L355.5,1300.3 L357.5,1298.4 L359.5,1296.5 L361.5,1294.6 L363.5,1292.6 L365.5,1290.7 L367.5,1288.9 L369.5,1287.4 L371.5,1286.0 L373.5,1284.3 L375.5,1282.4 L377.5,1280.2 L379.5,1278.0 L381.5,1275.9 L383.5,1273.8 L385.5,1271.9 L387.5,1270.1 L389.5,1268.6 L391.5,1267.7 L393.5,1267.1 L395.5,1266.2 L397.5,1264.6 L399.5,1262.2 L401.5,1259.7 L403.5,1257.3 L405.5,1255.3 L407.5,1253.7 L409.5,1252.2 L411.5,1250.6 L413.5,1248.9 L415.5,1247.2 L417.5,1245.5 L419.5,1243.6 L421.5,1241.4 L423.5,1239.1 L425.5,1236.7 L427.5,1234.8 L429.5,1233.4 L431.5,1232.1 L433.5,1230.7 L435.5,1228.8 L437.5,1226.5 L439.5,1224.3 L441.5,1222.2 L443.5,1220.7 L445.5,1219.7 L447.5,1218.6 L449.5,1216.9 L451.5,1214.6 L453.5,1212.0 L455.5,1209.5 L457.5,1207.4 L459.5,1205.7 L461.5,1204.2 L463.5,1202.5 L465.5,1200.4 L467.5,1198.2 L469.5,1195.9 L471.5,1193.9 L473.5,1192.1 L475.5,1190.6 L477.5,1189.2 L479.5,1187.4 L481.5,1185.4 L483.5,1183.1 L485.5,1180.8 L487.5,1178.6 L489.5,1176.2 L491.5,1173.9 L493.5,1172.1 L495.5,1171.0 L497.5,1170.8 L499.5,1170.6 L501.5,1170.0 L503.5,1168.6 L505.5,1166.8 L507.5,1164.9 L509.5,1162.9 L511.5,1160.9 L513.5,1159.0 L515.5,1157.1 L517.5,1155.3 L519.5,1153.6 L521.5,1151.9 L523.5,1150.0 L525.5,1147.9 L527.5,1145.4 L529.5,1142.9 L531.5,1140.6 L533.5,1138.6 L535.5,1136.8 L537.5,1135.1 L539.5,1133.4 L541.5,1132.0 L543.5,1130.6 L545.5,1129.1 L547.5,1127.3 L549.5,1124.9 L551.5,1122.5 L553.5,1120.6 L555.5,1120.2 L557.5,1120.9 L559.5,1121.8 L561.5,1121.7 L563.5,1120.2 L565.5,1117.7 L567.5,1115.3 L569.5,1113.8 L571.5,1113.6 L573.5,1113.9 L575.5,1113.9 L577.5,1112.7 L579.5,1110.2 L581.5,1107.5 L583.5,1105.3 L585.5,1104.6 L587.5,1105.0 L589.5,1105.5 L591.5,1105.5 L593.5,1104.6 L595.5,1103.3 L597.5,1101.6 L599.5,1099.4 L601.5,1096.2 L603.5,1092.5 L605.5,1089.3 L607.5,1087.3 L609.5,1086.3 L611.5,1086.0 L613.5,1086.0 L615.5,1086.3 L617.5,1087.4 L619.5,1088.3 L621.5,1088.3 L623.5,1086.8 L625.5,1084.3 L627.5,1081.9 L629.5,1080.6 L631.5,1080.7 L633.5,1081.4 L635.5,1081.7 L637.5,1080.7 L639.5,1078.5 L641.5,1075.7 L643.5,1073.1 L645.5,1071.0 L647.5,1068.9 L649.5,1067.1 L651.5,1066.0 L653.5,1065.8 L655.5,1066.3 L657.5,1066.9 L659.5,1067.0 L661.5,1066.7 L663.5,1066.1 L665.5,1065.2 L667.5,1063.8 L669.5,1061.6 L671.5,1059.1 L673.5,1056.9 L675.5,1055.1 L677.5,1053.5 L679.5,1052.2 L681.5,1051.1 L683.5,1050.3 L685.5,1049.8 L687.5,1049.5 L689.5,1049.5 L691.5,1050.1 L693.5,1050.9 L695.5,1051.4 L697.5,1050.9 L699.5,1049.7 L701.5,1048.1 L703.5,1046.2 L705.5,1044.0 L707.5,1041.2 L709.5,1038.5 L711.5,1036.4 L713.5,1035.3 L715.5,1034.8 L717.5,1034.4 L719.5,1033.5 L721.5,1032.3 L723.5,1030.8 L725.5,1029.4 L727.5,1028.1 L729.5,1026.7 L731.5,1025.5 L733.5,1024.7 L735.5,1024.9 L737.5,1026.1 L739.5,1027.2 L741.5,1027.2 L743.5,1025.4 L745.5,1022.5 L747.5,1019.8 L749.5,1018.3 L751.5,1018.1 L753.5,1018.6 L755.5,1019.0 L757.5,1018.6 L759.5,1017.7 L761.5,1016.5 L763.5,1015.3 L765.5,1013.9 L767.5,1012.2 L769.5,1010.7 L771.5,1009.8 L773.5,1009.8 L775.5,1010.2 L777.5,1010.3 L779.5,1009.3 L781.5,1006.5 L783.5,1003.1 L785.5,1000.1 L787.5,998.5 L789.5,998.3 L791.5,998.4 L793.5,998.1 L795.5,998.3 L797.5,997.6 L799.5,996.8 L801.5,996.7 L803.5,997.5 L805.5,998.9 L807.5,999.1 L809.5,998.0 L811.5,996.4 L813.5,994.5 L815.5,992.7 L817.5,991.2 L819.5,989.8 L821.5,988.5 L823.5,987.4 L825.5,986.7 L827.5,986.4 L829.5,986.1 L831.5,985.3 L833.5,984.4 L835.5,983.7 L837.5,982.9 L839.5,982.1 L841.5,981.0 L843.5,979.9 L845.5,979.0 L847.5,979.0 L849.5,979.7 L851.5,980.5 L853.5,981.0 L855.5,980.7 L857.5,980.0 L859.5,978.8 L861.5,976.7 L863.5,975.1 L865.5,973.6 L867.5,972.3 L869.5,971.0 L871.5,969.8 L873.5,968.9 L875.5,968.0 L877.5,966.9 L879.5,965.6 L881.5,964.2 L883.5,962.8 L885.5,961.3 L887.5,961.8 L889.5,962.5 L891.5,963.4 L893.5,964.8 L895.5,966.4 L897.5,966.5 L899.5,965.6 L901.5,964.3 L903.5,962.8 L905.5,961.3 L907.5,960.0 L909.5,958.8 L911.5,957.7 L913.5,956.6 L915.5,955.6 L917.5,954.7 L919.5,953.7 L921.5,953.7 L923.5,953.6 L925.5,953.4 L927.5,953.2 L929.5,953.0 L931.5,953.0 L933.5,952.7 L935.5,951.7 L937.5,950.7 L939.5,949.6 L941.5,948.5 L943.5,947.4 L945.5,945.3 L947.5,943.3 L949.5,941.3 L951.5,939.4 L953.5,937.6 L955.5,936.4 L957.5,935.3 L959.5,934.2 L961.5,932.8 L963.5,931.3 L965.5,930.3 L967.5,929.7 L969.5,929.2 L971.5,928.8 L973.5,928.3 L975.5,927.7 L977.5,927.0 L979.5,926.3 L981.5,925.6 L983.5,925.0 L985.5,924.4 L987.5,923.9 L989.5,923.4 L991.5,923.0 L993.5,922.7 L995.5,922.3 L997.5,921.8 L999.5,921.1 L1001.5,920.3 L1003.5,919.6 L1005.5,919.3 L1007.5,919.2 L1009.5,919.1 L1011.5,919.0 L1013.5,919.0 L1015.5,919.0 L1017.5,919.0 L1019.5,919.4 L1021.5,919.7 L1023.5,919.9 L1025.5,920.1 L1027.5,920.5 L1029.5,920.9 L1031.5,921.3 L1033.5,921.6 L1035.5,922.0 L1037.5,922.4 L1039.5,922.9 L1041.5,923.3 L1043.5,923.6 L1045.5,924.5 L1047.5,926.3 L1049.5,924.9 L1051.5,923.3 L1053.5,921.6 L1055.5,920.0 L1057.5,918.5 L1059.5,917.0 L1061.5,915.7 L1063.5,914.4 L1065.5,913.2 L1067.5,912.1 L1068.4,911.6" stroke="#161616" stroke-width="5.8"/>
<path d="M231.5,1375.5 L234.0,1374.3 L236.5,1373.1 L239.0,1371.9 L241.5,1370.7 L244.0,1369.5 L246.5,1368.2 L249.0,1366.7 L251.5,1365.2 L254.0,1363.9 L256.5,1362.5 L259.0,1361.3 L261.5,1360.0 L264.0,1358.8 L266.5,1357.4 L269.0,1355.9 L271.5,1354.3 L274.0,1352.8 L276.5,1351.6 L279.0,1350.4 L281.5,1349.1 L284.0,1347.5 L286.5,1345.9 L289.0,1344.4 L291.5,1342.9 L294.0,1341.3 L296.5,1339.4 L299.0,1337.6 L301.5,1335.7 L304.0,1334.0 L306.5,1332.2 L309.0,1330.4 L311.5,1328.2 L314.0,1326.0 L316.5,1324.0 L319.0,1322.4 L321.5,1320.8 L324.0,1318.9 L326.5,1316.8 L329.0,1315.0 L331.5,1313.7 L334.0,1312.8 L336.5,1311.6 L339.0,1309.4 L341.5,1306.9 L344.0,1304.3 L346.5,1302.5 L349.0,1300.8 L351.5,1298.5 L354.0,1295.2 L356.5,1291.9 L359.0,1289.9 L361.5,1288.9 L364.0,1287.8 L366.5,1286.0 L369.0,1283.8 L371.5,1281.7 L374.0,1279.9 L376.5,1278.2 L379.0,1276.7 L381.5,1275.4 L384.0,1273.8 L386.5,1271.6 L389.0,1268.6 L391.5,1265.4 L394.0,1262.9 L396.5,1260.7 L399.0,1258.8 L401.5,1257.4 L404.0,1256.4 L406.5,1255.1 L409.0,1252.9 L411.5,1250.2 L414.0,1247.6 L416.5,1244.9 L419.0,1242.3 L421.5,1240.4 L424.0,1239.5 L426.5,1238.1 L429.0,1235.9 L431.5,1233.3 L434.0,1230.4 L436.5,1226.9 L439.0,1223.0 L441.5,1219.5 L444.0,1217.2 L446.5,1215.7 L449.0,1213.7 L451.5,1211.2 L454.0,1208.5 L456.5,1206.2 L459.0,1204.2 L461.5,1202.4 L464.0,1201.3 L466.5,1200.4 L469.0,1199.2 L471.5,1197.4 L474.0,1195.1 L476.5,1193.3 L479.0,1192.7 L481.5,1192.5 L484.0,1191.6 L486.5,1189.6 L489.0,1187.3 L491.5,1185.6 L494.0,1184.3 L496.5,1182.6 L499.0,1181.3 L501.5,1180.4 L504.0,1179.2 L506.5,1177.1 L509.0,1174.3 L511.5,1171.6 L514.0,1169.8 L516.5,1168.3 L519.0,1166.8 L521.5,1165.4 L524.0,1164.1 L526.5,1162.5 L529.0,1160.7 L531.5,1158.7 L534.0,1156.8 L536.5,1155.0 L539.0,1153.0 L541.5,1150.7 L544.0,1148.1 L546.5,1146.1 L549.0,1145.2 L551.5,1144.9 L554.0,1144.3 L556.5,1143.5 L559.0,1142.5 L561.5,1141.5 L564.0,1140.4 L566.5,1139.0 L569.0,1137.5 L571.5,1135.7 L574.0,1133.8 L576.5,1132.0 L579.0,1130.1 L581.5,1128.5 L584.0,1127.3 L586.5,1126.3 L589.0,1125.6 L591.5,1125.1 L594.0,1124.8 L596.5,1124.2 L599.0,1123.3 L601.5,1122.2 L604.0,1120.6 L606.5,1118.4 L609.0,1116.4 L611.5,1115.5 L614.0,1115.1 L616.5,1114.7 L619.0,1114.1 L621.5,1113.6 L624.0,1113.1 L626.5,1112.6 L629.0,1112.1 L631.5,1111.7 L634.0,1111.6 L636.5,1111.4 L639.0,1110.3 L641.5,1108.8 L644.0,1107.1 L646.5,1105.1 L649.0,1103.0 L651.5,1101.6 L654.0,1101.8 L656.5,1102.6 L659.0,1102.4 L661.5,1100.9 L664.0,1098.9 L666.5,1097.8 L669.0,1097.3 L671.5,1096.8 L674.0,1095.8 L676.5,1094.4 L679.0,1093.2 L681.5,1092.6 L684.0,1092.3 L686.5,1091.9 L689.0,1091.1 L691.5,1089.9 L694.0,1087.9 L696.5,1086.5 L699.0,1085.2 L701.5,1082.9 L704.0,1079.4 L706.5,1075.8 L709.0,1073.6 L711.5,1073.8 L714.0,1074.7 L716.5,1074.4 L719.0,1073.2 L721.5,1072.0 L724.0,1072.0 L726.5,1072.5 L729.0,1072.2 L731.5,1070.3 L734.0,1068.1 L736.5,1066.8 L739.0,1066.4 L741.5,1066.3 L744.0,1065.8 L746.5,1064.9 L749.0,1063.8 L751.5,1063.1 L754.0,1062.6 L756.5,1061.9 L759.0,1064.1 L761.5,1065.8 L764.0,1063.1 L766.5,1061.0 L769.0,1059.1 L771.5,1056.6 L774.0,1054.8 L776.5,1054.2 L779.0,1054.1 L781.5,1054.2 L784.0,1054.4 L786.5,1054.6 L789.0,1053.4 L791.5,1052.3 L794.0,1051.6 L796.5,1050.9 L799.0,1050.1 L801.5,1049.7 L804.0,1049.2 L806.5,1049.5 L809.0,1048.5 L811.5,1047.4 L814.0,1045.3 L816.5,1042.3 L819.0,1039.7 L821.5,1038.9 L824.0,1039.0 L826.5,1038.6 L829.0,1037.3 L831.5,1035.6 L834.0,1034.4 L836.5,1033.7 L839.0,1033.2 L841.5,1032.9 L844.0,1033.0 L846.5,1033.1 L849.0,1032.5 L851.5,1029.6 L854.0,1026.4 L856.5,1022.8 L859.0,1018.9 L861.5,1018.3 L864.0,1018.3 L866.5,1018.6 L869.0,1019.1 L871.5,1019.9 L874.0,1020.5 L876.5,1020.9 L879.0,1021.0 L881.5,1021.1 L884.0,1021.3 L886.5,1021.7 L889.0,1022.0 L891.5,1022.3 L894.0,1022.6 L896.5,1022.9 L899.0,1023.3 L901.5,1023.6 L904.0,1024.1 L906.5,1023.4 L909.0,1022.8 L911.5,1022.1 L914.0,1021.4 L916.5,1020.7 L919.0,1019.9 L921.5,1018.3 L924.0,1016.2 L926.5,1014.1 L929.0,1012.0 L931.5,1009.8 L934.0,1007.7 L936.5,1005.6 L939.0,1003.7 L941.5,1001.9 L944.0,1000.4 L946.5,1000.1 L949.0,999.8 L951.5,999.5 L954.0,999.2 L956.5,998.8 L959.0,998.3 L961.5,997.2 L964.0,995.9 L966.5,994.6 L969.0,993.2 L971.5,991.8 L974.0,990.5 L976.5,989.1 L979.0,987.6 L981.5,986.0 L984.0,984.3 L986.5,982.6 L989.0,980.9 L991.5,979.4 L994.0,978.2 L996.5,976.9 L999.0,975.5 L1001.5,974.2 L1004.0,973.0 L1006.5,972.0 L1009.0,971.2 L1011.5,970.5 L1014.0,969.6 L1016.5,968.7 L1019.0,967.7 L1021.5,966.7 L1024.0,966.0 L1026.5,965.7 L1029.0,965.4 L1031.5,965.1 L1034.0,964.9 L1036.5,964.6 L1039.0,964.1 L1041.5,963.6 L1044.0,963.1 L1046.5,962.9 L1049.0,962.8 L1051.5,962.7 L1054.0,962.4 L1056.5,962.1 L1059.0,961.9 L1061.5,961.7 L1064.0,961.6 L1066.5,961.4 L1068.4,961.2" stroke="#b6b6b6" stroke-width="5.8"/>
<path d="M231.5,1381.6 L233.5,1380.7 L235.5,1379.9 L237.5,1379.1 L239.5,1378.3 L241.5,1377.3 L243.5,1376.2 L245.5,1375.2 L247.5,1374.2 L249.5,1373.3 L251.5,1372.4 L253.5,1371.4 L255.5,1370.2 L257.5,1368.8 L259.5,1367.3 L261.5,1365.8 L263.5,1364.5 L265.5,1363.4 L267.5,1362.2 L269.5,1361.0 L271.5,1359.8 L273.5,1358.5 L275.5,1357.2 L277.5,1355.9 L279.5,1354.7 L281.5,1353.5 L283.5,1352.4 L285.5,1351.4 L287.5,1350.7 L289.5,1349.9 L291.5,1348.8 L293.5,1347.3 L295.5,1345.3 L297.5,1343.4 L299.5,1341.7 L301.5,1340.5 L303.5,1339.5 L305.5,1338.4 L307.5,1337.0 L309.5,1335.3 L311.5,1333.5 L313.5,1331.8 L315.5,1330.3 L317.5,1328.9 L319.5,1327.6 L321.5,1326.1 L323.5,1324.6 L325.5,1323.1 L327.5,1321.6 L329.5,1320.2 L331.5,1319.1 L333.5,1318.0 L335.5,1316.8 L337.5,1315.3 L339.5,1313.6 L341.5,1311.7 L343.5,1309.6 L345.5,1307.3 L347.5,1304.8 L349.5,1302.3 L351.5,1300.1 L353.5,1298.5 L355.5,1297.2 L357.5,1295.9 L359.5,1294.4 L361.5,1292.6 L363.5,1290.7 L365.5,1289.0 L367.5,1287.9 L369.5,1287.3 L371.5,1287.0 L373.5,1286.4 L375.5,1285.2 L377.5,1283.6 L379.5,1281.8 L381.5,1280.1 L383.5,1278.5 L385.5,1276.9 L387.5,1275.2 L389.5,1273.6 L391.5,1272.0 L393.5,1270.5 L395.5,1268.9 L397.5,1267.2 L399.5,1265.4 L401.5,1263.6 L403.5,1261.8 L405.5,1260.2 L407.5,1258.8 L409.5,1257.4 L411.5,1255.8 L413.5,1254.0 L415.5,1252.0 L417.5,1249.9 L419.5,1247.6 L421.5,1244.8 L423.5,1241.9 L425.5,1239.1 L427.5,1237.1 L429.5,1236.0 L431.5,1235.2 L433.5,1234.0 L435.5,1231.8 L437.5,1229.0 L439.5,1226.1 L441.5,1223.5 L443.5,1221.7 L445.5,1220.4 L447.5,1219.1 L449.5,1217.4 L451.5,1215.3 L453.5,1213.1 L455.5,1210.8 L457.5,1208.6 L459.5,1206.4 L461.5,1204.3 L463.5,1202.2 L465.5,1200.1 L467.5,1198.0 L469.5,1196.0 L471.5,1194.0 L473.5,1192.1 L475.5,1190.4 L477.5,1188.7 L479.5,1187.0 L481.5,1185.1 L483.5,1183.1 L485.5,1181.0 L487.5,1178.9 L489.5,1176.6 L491.5,1174.3 L493.5,1172.4 L495.5,1171.3 L497.5,1171.0 L499.5,1170.8 L501.5,1170.1 L503.5,1168.6 L505.5,1166.6 L507.5,1164.6 L509.5,1162.8 L511.5,1161.4 L513.5,1160.4 L515.5,1159.2 L517.5,1157.6 L519.5,1155.5 L521.5,1153.2 L523.5,1151.0 L525.5,1149.0 L527.5,1147.1 L529.5,1145.4 L531.5,1143.8 L533.5,1142.8 L535.5,1142.0 L537.5,1141.1 L539.5,1139.4 L541.5,1136.6 L543.5,1133.2 L545.5,1130.3 L547.5,1128.8 L549.5,1128.5 L551.5,1128.8 L553.5,1128.6 L555.5,1127.5 L557.5,1125.8 L559.5,1123.8 L561.5,1121.9 L563.5,1120.1 L565.5,1118.2 L567.5,1116.4 L569.5,1114.8 L571.5,1113.5 L573.5,1112.4 L575.5,1111.4 L577.5,1110.7 L579.5,1110.4 L581.5,1110.2 L583.5,1109.7 L585.5,1108.4 L587.5,1106.5 L589.5,1104.4 L591.5,1102.8 L593.5,1101.9 L595.5,1101.3 L597.5,1100.8 L599.5,1100.2 L601.5,1099.5 L603.5,1098.8 L605.5,1097.9 L607.5,1096.7 L609.5,1095.2 L611.5,1093.6 L613.5,1091.9 L615.5,1090.3 L617.5,1088.4 L619.5,1086.7 L621.5,1085.4 L623.5,1085.0 L625.5,1085.1 L627.5,1085.1 L629.5,1084.4 L631.5,1083.0 L633.5,1081.2 L635.5,1079.4 L637.5,1078.0 L639.5,1077.0 L641.5,1076.1 L643.5,1075.2 L645.5,1074.1 L647.5,1072.9 L649.5,1071.8 L651.5,1070.8 L653.5,1070.2 L655.5,1069.8 L657.5,1069.3 L659.5,1068.3 L661.5,1066.5 L663.5,1064.5 L665.5,1062.8 L667.5,1062.2 L669.5,1062.5 L671.5,1063.1 L673.5,1063.6 L675.5,1063.7 L677.5,1063.8 L679.5,1063.5 L681.5,1062.6 L683.5,1060.6 L685.5,1057.9 L687.5,1055.3 L689.5,1053.7 L691.5,1053.2 L693.5,1053.2 L695.5,1053.3 L697.5,1053.1 L699.5,1053.1 L701.5,1052.8 L703.5,1051.9 L705.5,1049.7 L707.5,1046.4 L709.5,1042.9 L711.5,1040.2 L713.5,1038.7 L715.5,1037.9 L717.5,1037.6 L719.5,1037.5 L721.5,1038.0 L723.5,1038.9 L725.5,1039.5 L727.5,1039.4 L729.5,1038.7 L731.5,1037.6 L733.5,1036.4 L735.5,1035.2 L737.5,1033.8 L739.5,1032.3 L741.5,1030.6 L743.5,1028.5 L745.5,1026.2 L747.5,1024.1 L749.5,1022.8 L751.5,1022.2 L753.5,1022.0 L755.5,1022.1 L757.5,1022.1 L759.5,1022.4 L761.5,1022.8 L763.5,1022.9 L765.5,1022.5 L767.5,1021.8 L769.5,1020.8 L771.5,1019.9 L773.5,1018.8 L775.5,1017.5 L777.5,1016.0 L779.5,1014.0 L781.5,1011.5 L783.5,1008.9 L785.5,1006.8 L787.5,1006.2 L789.5,1006.9 L791.5,1008.0 L793.5,1008.5 L795.5,1007.4 L797.5,1005.4 L799.5,1003.3 L801.5,1001.8 L803.5,1001.4 L805.5,1001.5 L807.5,1001.6 L809.5,1001.0 L811.5,999.4 L813.5,997.4 L815.5,995.9 L817.5,995.6 L819.5,996.4 L821.5,997.4 L823.5,997.9 L825.5,997.3 L827.5,996.1 L829.5,994.7 L831.5,993.6 L833.5,993.3 L835.5,993.6 L837.5,993.8 L839.5,993.7 L841.5,993.1 L843.5,992.3 L845.5,991.8 L847.5,991.7 L849.5,991.6 L851.5,991.0 L853.5,990.3 L855.5,989.3 L857.5,988.1 L859.5,986.9 L861.5,985.7 L863.5,984.6 L865.5,983.5 L867.5,982.4 L869.5,981.6 L871.5,980.6 L873.5,979.6 L875.5,978.7 L877.5,978.0 L879.5,978.1 L881.5,978.3 L883.5,978.4 L885.5,978.1 L887.5,977.7 L889.5,977.2 L891.5,976.8 L893.5,976.5 L895.5,974.9 L897.5,973.4 L899.5,971.7 L901.5,970.0 L903.5,968.3 L905.5,966.7 L907.5,965.2 L909.5,963.9 L911.5,962.6 L913.5,961.2 L915.5,959.6 L917.5,957.7 L919.5,955.7 L921.5,955.6 L923.5,955.9 L925.5,956.2 L927.5,956.6 L929.5,956.9 L931.5,957.1 L933.5,957.2 L935.5,957.4 L937.5,957.8 L939.5,957.3 L941.5,956.2 L943.5,955.0 L945.5,953.7 L947.5,952.2 L949.5,950.8 L951.5,949.3 L953.5,948.5 L955.5,947.8 L957.5,946.9 L959.5,946.1 L961.5,945.0 L963.5,944.0 L965.5,943.3 L967.5,943.2 L969.5,943.2 L971.5,943.2 L973.5,943.3 L975.5,943.2 L977.5,943.0 L979.5,942.8 L981.5,942.6 L983.5,942.4 L985.5,942.3 L987.5,942.2 L989.5,942.2 L991.5,942.1 L993.5,942.0 L995.5,942.0 L997.5,942.2 L999.5,942.6 L1001.5,943.0 L1003.5,943.3 L1005.5,943.1 L1007.5,942.5 L1009.5,942.0 L1011.5,941.5 L1013.5,941.3 L1015.5,941.2 L1017.5,941.0 L1019.5,940.3 L1021.5,939.5 L1023.5,938.6 L1025.5,937.8 L1027.5,937.0 L1029.5,936.3 L1031.5,935.5 L1033.5,934.6 L1035.5,933.6 L1037.5,932.4 L1039.5,931.2 L1041.5,930.1 L1043.5,929.2 L1045.5,927.9 L1047.5,926.7 L1049.5,925.4 L1051.5,923.9 L1053.5,922.5 L1055.5,921.1 L1057.5,919.7 L1059.5,918.4 L1061.5,917.2 L1063.5,915.8 L1065.5,914.3 L1067.5,912.6 L1068.4,912.0" stroke="#161616" stroke-width="5.8" stroke-dasharray="11.3 12.7"/>
<path d="M231.5,1388.8 L233.5,1387.9 L235.5,1387.2 L237.5,1386.4 L239.5,1385.4 L241.5,1384.2 L243.5,1383.0 L245.5,1382.0 L247.5,1381.1 L249.5,1380.2 L251.5,1379.1 L253.5,1377.5 L255.5,1375.9 L257.5,1374.3 L259.5,1373.0 L261.5,1371.7 L263.5,1370.2 L265.5,1368.8 L267.5,1367.7 L269.5,1366.5 L271.5,1365.0 L273.5,1363.4 L275.5,1361.8 L277.5,1360.0 L279.5,1358.1 L281.5,1356.2 L283.5,1354.4 L285.5,1353.1 L287.5,1351.9 L289.5,1350.6 L291.5,1349.0 L293.5,1347.1 L295.5,1345.3 L297.5,1343.9 L299.5,1342.8 L301.5,1341.8 L303.5,1340.4 L305.5,1338.4 L307.5,1336.1 L309.5,1334.1 L311.5,1332.5 L313.5,1331.1 L315.5,1329.9 L317.5,1328.9 L319.5,1328.4 L321.5,1327.7 L323.5,1326.3 L325.5,1324.3 L327.5,1322.1 L329.5,1320.3 L331.5,1318.7 L333.5,1317.2 L335.5,1316.1 L337.5,1315.3 L339.5,1314.9 L341.5,1314.3 L343.5,1313.0 L345.5,1311.1 L347.5,1309.0 L349.5,1306.8 L351.5,1304.2 L353.5,1301.7 L355.5,1299.7 L357.5,1298.5 L359.5,1297.5 L361.5,1296.5 L363.5,1295.3 L365.5,1293.9 L367.5,1292.3 L369.5,1290.2 L371.5,1287.5 L373.5,1285.0 L375.5,1283.4 L377.5,1282.7 L379.5,1282.2 L381.5,1280.8 L383.5,1278.4 L385.5,1275.6 L387.5,1273.2 L389.5,1271.7 L391.5,1270.6 L393.5,1269.4 L395.5,1267.6 L397.5,1265.4 L399.5,1263.2 L401.5,1261.4 L403.5,1259.7 L405.5,1258.3 L407.5,1257.3 L409.5,1257.1 L411.5,1257.2 L413.5,1256.4 L415.5,1254.1 L417.5,1250.9 L419.5,1248.2 L421.5,1246.9 L423.5,1246.7 L425.5,1246.1 L427.5,1244.2 L429.5,1241.0 L431.5,1237.6 L433.5,1234.8 L435.5,1232.9 L437.5,1231.3 L439.5,1229.8 L441.5,1228.3 L443.5,1227.0 L445.5,1225.8 L447.5,1224.2 L449.5,1222.3 L451.5,1220.2 L453.5,1217.7 L455.5,1214.7 L457.5,1211.8 L459.5,1209.7 L461.5,1209.0 L463.5,1209.2 L465.5,1209.0 L467.5,1208.3 L469.5,1207.3 L471.5,1206.0 L473.5,1204.2 L475.5,1202.0 L477.5,1199.7 L479.5,1197.8 L481.5,1196.1 L483.5,1194.8 L485.5,1194.1 L487.5,1194.7 L489.5,1195.6 L491.5,1195.7 L493.5,1194.3 L495.5,1191.9 L497.5,1189.4 L499.5,1187.1 L501.5,1184.8 L503.5,1182.7 L505.5,1181.3 L507.5,1180.6 L509.5,1180.0 L511.5,1178.8 L513.5,1176.5 L515.5,1173.9 L517.5,1171.9 L519.5,1171.3 L521.5,1171.4 L523.5,1171.1 L525.5,1169.5 L527.5,1167.5 L529.5,1165.5 L531.5,1163.5 L533.5,1161.2 L535.5,1159.1 L537.5,1158.2 L539.5,1159.3 L541.5,1160.9 L543.5,1161.3 L545.5,1159.2 L547.5,1155.7 L549.5,1152.6 L551.5,1151.3 L553.5,1151.1 L555.5,1150.9 L557.5,1149.6 L559.5,1147.4 L561.5,1145.2 L563.5,1144.2 L565.5,1145.2 L567.5,1146.6 L569.5,1146.8 L571.5,1144.5 L573.5,1140.8 L575.5,1137.7 L577.5,1136.8 L579.5,1137.2 L581.5,1137.5 L583.5,1136.8 L585.5,1134.7 L587.5,1132.4 L589.5,1131.3 L591.5,1131.6 L593.5,1132.4 L595.5,1132.9 L597.5,1133.1 L599.5,1133.2 L601.5,1132.9 L603.5,1132.2 L605.5,1131.1 L607.5,1130.0 L609.5,1128.9 L611.5,1127.7 L613.5,1126.5 L615.5,1125.4 L617.5,1124.5 L619.5,1123.6 L621.5,1122.7 L623.5,1121.6 L625.5,1120.4 L627.5,1119.3 L629.5,1118.7 L631.5,1118.4 L633.5,1117.9 L635.5,1116.4 L637.5,1113.9 L639.5,1111.5 L641.5,1110.3 L643.5,1110.7 L645.5,1111.6 L647.5,1111.9 L649.5,1110.8 L651.5,1109.1 L653.5,1107.9 L655.5,1108.2 L657.5,1109.7 L659.5,1111.2 L661.5,1111.7 L663.5,1111.7 L665.5,1111.0 L667.5,1109.3 L669.5,1106.1 L671.5,1102.3 L673.5,1099.4 L675.5,1098.1 L677.5,1097.6 L679.5,1097.5 L681.5,1097.9 L683.5,1099.0 L685.5,1099.9 L687.5,1099.8 L689.5,1098.9 L691.5,1097.5 L693.5,1095.7 L695.5,1093.1 L697.5,1090.3 L699.5,1088.6 L701.5,1089.0 L703.5,1090.6 L705.5,1092.0 L707.5,1092.5 L709.5,1092.7 L711.5,1092.3 L713.5,1091.0 L715.5,1088.6 L717.5,1086.0 L719.5,1084.2 L721.5,1083.1 L723.5,1082.4 L725.5,1081.9 L727.5,1081.7 L729.5,1081.7 L731.5,1081.9 L733.5,1082.4 L735.5,1083.3 L737.5,1083.6 L739.5,1082.5 L741.5,1079.9 L743.5,1076.9 L745.5,1075.0 L747.5,1074.5 L749.5,1074.5 L751.5,1074.3 L753.5,1073.5 L755.5,1072.6 L757.5,1072.0 L759.5,1072.3 L761.5,1073.5 L763.5,1074.4 L765.5,1074.5 L767.5,1073.7 L769.5,1072.6 L771.5,1071.6 L773.5,1070.3 L775.5,1068.6 L777.5,1067.2 L779.5,1066.4 L781.5,1066.0 L783.5,1065.4 L785.5,1063.8 L787.5,1061.6 L789.5,1060.1 L791.5,1059.6 L793.5,1059.7 L795.5,1060.3 L797.5,1061.0 L799.5,1062.4 L801.5,1063.5 L803.5,1062.8 L805.5,1060.8 L807.5,1058.1 L809.5,1055.4 L811.5,1053.0 L813.5,1050.5 L815.5,1049.4 L817.5,1049.7 L819.5,1050.9 L821.5,1052.2 L823.5,1052.5 L825.5,1051.5 L827.5,1050.1 L829.5,1049.0 L831.5,1048.6 L833.5,1048.4 L835.5,1048.2 L837.5,1047.8 L839.5,1047.3 L841.5,1046.8 L843.5,1046.6 L845.5,1046.7 L847.5,1046.7 L849.5,1046.5 L851.5,1046.1 L853.5,1045.6 L855.5,1045.1 L857.5,1044.5 L859.5,1044.0 L861.5,1043.5 L863.5,1043.5 L865.5,1043.8 L867.5,1044.0 L869.5,1043.8 L871.5,1043.0 L873.5,1042.0 L875.5,1041.4 L877.5,1041.1 L879.5,1040.9 L881.5,1041.1 L883.5,1041.5 L885.5,1042.0 L887.5,1042.6 L889.5,1043.0 L891.5,1043.5 L893.5,1043.9 L895.5,1044.2 L897.5,1044.2 L899.5,1044.2 L901.5,1044.5 L903.5,1045.3 L905.5,1044.2 L907.5,1042.4 L909.5,1040.3 L911.5,1038.0 L913.5,1035.7 L915.5,1033.7 L917.5,1032.2 L919.5,1031.8 L921.5,1031.4 L923.5,1030.9 L925.5,1030.4 L927.5,1029.9 L929.5,1030.5 L931.5,1031.1 L933.5,1031.6 L935.5,1032.0 L937.5,1032.3 L939.5,1032.6 L941.5,1032.3 L943.5,1030.9 L945.5,1029.6 L947.5,1028.4 L949.5,1027.5 L951.5,1026.5 L953.5,1025.3 L955.5,1024.0 L957.5,1022.7 L959.5,1021.5 L961.5,1020.4 L963.5,1019.4 L965.5,1018.5 L967.5,1017.7 L969.5,1017.0 L971.5,1016.2 L973.5,1015.3 L975.5,1014.1 L977.5,1012.8 L979.5,1011.7 L981.5,1010.8 L983.5,1010.0 L985.5,1009.0 L987.5,1007.6 L989.5,1006.1 L991.5,1004.8 L993.5,1003.6 L995.5,1002.7 L997.5,1001.8 L999.5,1000.6 L1001.5,999.3 L1003.5,997.9 L1005.5,996.6 L1007.5,995.1 L1009.5,993.7 L1011.5,992.4 L1013.5,991.3 L1015.5,990.4 L1017.5,989.3 L1019.5,988.0 L1021.5,986.5 L1023.5,985.0 L1025.5,983.6 L1027.5,982.3 L1029.5,981.1 L1031.5,980.2 L1033.5,979.3 L1035.5,978.3 L1037.5,977.4 L1039.5,976.5 L1041.5,975.5 L1043.5,974.5 L1045.5,973.9 L1047.5,973.6 L1049.5,973.3 L1051.5,973.1 L1053.5,973.0 L1055.5,972.9 L1057.5,972.6 L1059.5,972.1 L1061.5,970.9 L1063.5,969.8 L1065.5,968.9 L1067.5,967.9 L1068.4,967.8" stroke="#9d9d9d" stroke-width="5.8" stroke-dasharray="11.3 12.7"/>
</g>
<rect x="555" y="391" width="470.5" height="206" fill="#fff" stroke="#1a1a1a" stroke-width="2"/>
<line x1="571.9" y1="416.5" x2="646" y2="416.5" stroke="#151515" stroke-width="6" stroke-linecap="round"/>
<text x="653.9" y="428.2" font-family="'Liberation Serif','Times New Roman',serif" font-size="35" text-anchor="start" fill="#111" class="t" letter-spacing="0.18">A condition &amp; Ar Anneal</text>
<line x1="571.9" y1="468.6" x2="646" y2="468.6" stroke="#999999" stroke-width="6" stroke-linecap="round"/>
<text x="653.9" y="480.0" font-family="'Liberation Serif','Times New Roman',serif" font-size="35" text-anchor="start" fill="#111" class="t" letter-spacing="0.18">B condition &amp; Ar Anneal</text>
<line x1="571.9" y1="520.2" x2="646" y2="520.2" stroke="#151515" stroke-width="6" stroke-linecap="round" stroke-dasharray="13.1 12.1"/>
<text x="653.9" y="531.9" font-family="'Liberation Serif','Times New Roman',serif" font-size="35" text-anchor="start" fill="#111" class="t" letter-spacing="0.18">A condition</text>
<line x1="571.9" y1="571.4" x2="646" y2="571.4" stroke="#999999" stroke-width="6" stroke-linecap="round" stroke-dasharray="13.1 12.1"/>
<text x="653.9" y="583.1" font-family="'Liberation Serif','Times New Roman',serif" font-size="35" text-anchor="start" fill="#111" class="t" letter-spacing="0.18">B condition</text>
<rect x="544" y="1244.9" width="498.6" height="202.8" fill="#fff" stroke="#141414" stroke-width="3.8"/>
<line x1="589.5" y1="1269.1" x2="663.6" y2="1269.1" stroke="#151515" stroke-width="6" stroke-linecap="round"/>
<text x="672.3" y="1280.2" font-family="'Liberation Serif','Times New Roman',serif" font-size="32.6" text-anchor="start" fill="#111" class="t" >A condition &amp; Ar Anneal</text>
<line x1="589.5" y1="1319.8" x2="663.6" y2="1319.8" stroke="#b4b4b4" stroke-width="6" stroke-linecap="round"/>
<text x="672.3" y="1331.0" font-family="'Liberation Serif','Times New Roman',serif" font-size="32.6" text-anchor="start" fill="#111" class="t" >B condition &amp; Ar Anneal</text>
<line x1="589.5" y1="1370.6" x2="663.6" y2="1370.6" stroke="#151515" stroke-width="6" stroke-linecap="round" stroke-dasharray="11.9 13.6"/>
<text x="672.3" y="1381.5" font-family="'Liberation Serif','Times New Roman',serif" font-size="32.6" text-anchor="start" fill="#111" class="t" >A condition</text>
<line x1="589.5" y1="1422" x2="663.6" y2="1422" stroke="#999999" stroke-width="6" stroke-linecap="round" stroke-dasharray="11.9 13.6"/>
<text x="672.3" y="1432.1" font-family="'Liberation Serif','Times New Roman',serif" font-size="32.6" text-anchor="start" fill="#111" class="t" >B condition</text>
</svg>
</body></html>
